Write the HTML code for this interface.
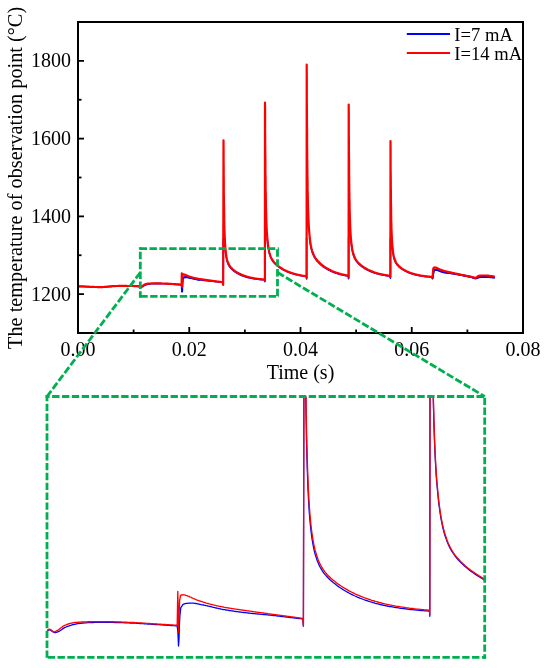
<!DOCTYPE html>
<html><head><meta charset="utf-8"><style>
html,body{margin:0;padding:0;background:#fff;}
svg{display:block;}
text{font-family:"Liberation Serif","Times New Roman",serif;fill:#000;}
</style></head><body>
<svg width="550" height="668" viewBox="0 0 550 668">
<defs>
<clipPath id="cm"><rect x="79" y="23" width="443" height="309"/></clipPath>
<clipPath id="cb"><rect x="79" y="238" width="443" height="94"/></clipPath>
<clipPath id="ci"><rect x="47" y="396.5" width="437.7" height="260.8"/></clipPath>
</defs>
<rect x="0" y="0" width="550" height="668" fill="#fff"/>
<g clip-path="url(#cm)" fill="none" stroke-linejoin="round" stroke-width="2.2">
<path d="M78.0 286.4L78.2 286.4L78.5 286.4L78.8 286.4L79.0 286.4L79.2 286.4L79.5 286.4L79.8 286.4L80.0 286.4L80.2 286.4L80.5 286.5L80.8 286.5L81.0 286.5L81.2 286.5L81.5 286.5L81.8 286.5L82.0 286.5L82.2 286.5L82.5 286.5L82.8 286.5L83.0 286.5L83.2 286.5L83.5 286.5L83.8 286.6L84.0 286.6L84.2 286.6L84.5 286.6L84.8 286.6L85.0 286.6L85.2 286.6L85.5 286.6L85.8 286.6L86.0 286.6L86.2 286.7L86.5 286.7L86.8 286.7L87.0 286.7L87.2 286.7L87.5 286.7L87.8 286.8L88.0 286.8L88.2 286.8L88.5 286.8L88.8 286.8L89.0 286.8L89.2 286.9L89.5 286.9L89.8 286.9L90.0 286.9L90.2 286.9L90.5 286.9L90.8 286.9L91.0 287.0L91.2 287.0L91.5 287.0L91.8 287.0L92.0 287.0L92.2 287.0L92.5 287.0L92.8 287.0L93.0 287.0L93.2 287.0L93.5 287.0L93.8 287.1L94.0 287.1L94.2 287.1L94.5 287.1L94.8 287.1L95.0 287.1L95.2 287.1L95.5 287.1L95.8 287.1L96.0 287.1L96.2 287.1L96.5 287.1L96.8 287.1L97.0 287.1L97.2 287.2L97.5 287.2L97.8 287.2L98.0 287.2L98.2 287.2L98.5 287.2L98.8 287.2L99.0 287.2L99.2 287.2L99.5 287.2L99.8 287.2L100.0 287.2L100.2 287.2L100.5 287.2L100.8 287.2L101.0 287.2L101.2 287.2L101.5 287.2L101.8 287.2L102.0 287.2L102.2 287.2L102.5 287.2L102.8 287.1L103.0 287.1L103.2 287.1L103.5 287.1L103.8 287.1L104.0 287.1L104.2 287.0L104.5 287.0L104.8 287.0L105.0 287.0L105.2 286.9L105.5 286.9L105.8 286.9L106.0 286.9L106.2 286.9L106.5 286.8L106.8 286.8L107.0 286.8L107.2 286.8L107.5 286.7L107.8 286.7L108.0 286.7L108.2 286.7L108.5 286.7L108.8 286.6L109.0 286.6L109.2 286.6L109.5 286.6L109.8 286.5L110.0 286.5L110.2 286.5L110.5 286.5L110.8 286.4L111.0 286.4L111.2 286.4L111.5 286.4L111.8 286.4L112.0 286.3L112.2 286.3L112.5 286.3L112.8 286.3L113.0 286.3L113.2 286.2L113.5 286.2L113.8 286.2L114.0 286.2L114.2 286.2L114.5 286.2L114.8 286.2L115.0 286.2L115.2 286.2L115.5 286.1L115.8 286.1L116.0 286.1L116.2 286.1L116.5 286.1L116.8 286.1L117.0 286.1L117.2 286.1L117.5 286.1L117.8 286.1L118.0 286.1L118.2 286.1L118.5 286.0L118.8 286.0L119.0 286.0L119.2 286.0L119.5 286.0L119.8 286.0L120.0 286.0L120.2 286.0L120.5 286.0L120.8 286.0L121.0 286.0L121.2 286.0L121.5 286.0L121.8 286.0L122.0 286.0L122.2 286.0L122.5 286.0L122.8 286.0L123.0 286.0L123.2 286.0L123.5 286.0L123.8 286.0L124.0 286.0L124.2 286.0L124.5 286.0L124.8 286.0L125.0 286.0L125.2 286.0L125.5 286.0L125.8 286.0L126.0 286.0L126.2 286.0L126.5 286.0L126.8 286.0L127.0 286.1L127.2 286.1L127.5 286.1L127.8 286.1L128.0 286.1L128.2 286.1L128.5 286.1L128.8 286.1L129.0 286.1L129.2 286.1L129.5 286.1L129.8 286.1L130.0 286.1L130.2 286.1L130.5 286.1L130.8 286.1L131.0 286.1L131.2 286.1L131.5 286.1L131.8 286.1L132.0 286.1L132.2 286.1L132.5 286.1L132.8 286.1L133.0 286.1L133.2 286.1L133.5 286.1L133.8 286.1L134.0 286.2L134.2 286.2L134.5 286.2L134.8 286.2L135.0 286.2L135.2 286.2L135.5 286.2L135.8 286.2L136.0 286.2L136.2 286.2L136.5 286.2L136.8 286.3L137.0 286.3L137.2 286.3L137.5 286.3L137.8 286.4L138.0 286.4L138.2 286.4L138.5 286.4L138.8 286.4L139.0 286.3L139.2 286.2L139.5 286.1L139.8 286.1L140.0 286.3L140.2 286.5L140.5 286.6L140.8 286.8L141.0 286.9L141.2 287.0L141.5 287.0L141.8 286.9L142.0 286.9L142.2 286.8L142.5 286.7L142.8 286.6L143.0 286.4L143.2 286.2L143.5 286.1L143.8 285.9L144.0 285.7L144.2 285.5L144.5 285.4L144.8 285.3L145.0 285.2L145.2 285.1L145.5 285.0L145.8 284.9L146.0 284.8L146.2 284.7L146.5 284.6L146.8 284.6L147.0 284.5L147.2 284.4L147.5 284.3L147.8 284.3L148.0 284.2L148.2 284.2L148.5 284.1L148.8 284.1L149.0 284.0L149.2 284.0L149.5 284.0L149.8 283.9L150.0 283.9L150.2 283.9L150.5 283.9L150.8 283.8L151.0 283.8L151.2 283.8L151.5 283.8L151.8 283.8L152.0 283.7L152.2 283.7L152.5 283.7L152.8 283.7L153.0 283.7L153.2 283.7L153.5 283.7L153.8 283.7L154.0 283.7L154.2 283.6L154.5 283.6L154.8 283.6L155.0 283.6L155.2 283.6L155.5 283.6L155.8 283.6L156.0 283.6L156.2 283.6L156.5 283.6L156.8 283.6L157.0 283.6L157.2 283.6L157.5 283.6L157.8 283.6L158.0 283.6L158.2 283.6L158.5 283.6L158.8 283.6L159.0 283.6L159.2 283.6L159.5 283.6L159.8 283.6L160.0 283.6L160.2 283.6L160.5 283.6L160.8 283.6L161.0 283.7L161.2 283.7L161.5 283.7L161.8 283.7L162.0 283.7L162.2 283.7L162.5 283.7L162.8 283.7L163.0 283.7L163.2 283.7L163.5 283.7L163.8 283.7L164.0 283.7L164.2 283.8L164.5 283.8L164.8 283.8L165.0 283.8L165.2 283.8L165.5 283.8L165.8 283.8L166.0 283.8L166.2 283.8L166.5 283.8L166.8 283.9L167.0 283.9L167.2 283.9L167.5 283.9L167.8 283.9L168.0 283.9L168.2 283.9L168.5 283.9L168.8 284.0L169.0 284.0L169.2 284.0L169.5 284.0L169.8 284.0L170.0 284.0L170.2 284.1L170.5 284.1L170.8 284.1L171.0 284.1L171.2 284.1L171.5 284.1L171.8 284.2L172.0 284.2L172.2 284.2L172.5 284.2L172.8 284.2L173.0 284.2L173.2 284.3L173.5 284.3L173.8 284.3L174.0 284.3L174.2 284.3L174.5 284.3L174.8 284.4L175.0 284.4L175.2 284.4L175.5 284.4L175.8 284.4L176.0 284.4L176.2 284.4L176.5 284.5L176.8 284.5L177.0 284.5L177.2 284.5L177.5 284.5L177.8 284.5L178.0 284.6L178.2 284.6L178.5 284.6L178.8 284.6L179.0 284.6L179.2 284.6L179.5 284.7L179.8 284.7L180.0 284.7L180.2 284.7L180.5 284.7L180.8 284.7L181.0 284.8L181.2 284.8L181.5 284.8L181.6 284.8L181.8 287.0L182.1 291.5L182.2 289.3L182.3 284.5L182.5 281.5L182.7 279.6L182.8 278.7L183.5 277.7L183.8 277.6L184.0 277.5L184.2 277.4L184.5 277.3L184.8 277.3L185.0 277.3L185.2 277.2L185.5 277.2L185.8 277.2L186.0 277.2L186.2 277.2L186.5 277.2L186.8 277.2L187.0 277.2L187.2 277.3L187.5 277.3L187.8 277.3L188.0 277.4L188.2 277.4L188.5 277.5L188.8 277.5L189.0 277.6L189.2 277.6L189.5 277.7L189.8 277.8L190.0 277.8L190.2 277.8L190.5 277.9L190.8 277.9L191.0 278.0L191.2 278.1L191.5 278.1L191.8 278.2L192.0 278.2L192.2 278.3L192.5 278.3L192.8 278.4L193.0 278.5L193.2 278.5L193.5 278.6L193.8 278.6L194.0 278.7L194.2 278.8L194.5 278.8L194.8 278.9L195.0 278.9L195.2 279.0L195.5 279.1L195.8 279.1L196.0 279.2L196.2 279.2L196.5 279.3L196.8 279.3L197.0 279.4L197.2 279.4L197.5 279.5L197.8 279.5L198.0 279.5L198.2 279.6L198.5 279.6L198.8 279.7L199.0 279.7L199.2 279.7L199.5 279.8L199.8 279.8L200.0 279.8L200.2 279.9L200.5 279.9L200.8 280.0L201.0 280.0L201.2 280.0L201.5 280.1L201.8 280.1L202.0 280.1L202.2 280.2L202.5 280.2L202.8 280.2L203.0 280.3L203.2 280.3L203.5 280.3L203.8 280.4L204.0 280.4L204.2 280.4L204.5 280.4L204.8 280.5L205.0 280.5L205.2 280.5L205.5 280.6L205.8 280.6L206.0 280.6L206.2 280.6L206.5 280.7L206.8 280.7L207.0 280.7L207.2 280.7L207.5 280.8L207.8 280.8L208.0 280.8L208.2 280.8L208.5 280.9L208.8 280.9L209.0 280.9L209.2 280.9L209.5 280.9L209.8 281.0L210.0 281.0L210.2 281.0L210.5 281.0L210.8 281.1L211.0 281.1L211.2 281.1L211.5 281.1L211.8 281.2L212.0 281.2L212.2 281.2L212.5 281.2L212.8 281.3L213.0 281.3L213.2 281.3L213.5 281.4L213.8 281.4L214.0 281.4L214.2 281.4L214.5 281.5L214.8 281.5L215.0 281.5L215.2 281.6L215.5 281.6L215.8 281.6L216.0 281.7L216.2 281.7L216.5 281.7L216.8 281.7L217.0 281.8L217.2 281.8L217.5 281.8L217.8 281.9L218.0 281.9L218.2 281.9L218.5 282.0L218.8 282.0L219.0 282.0L219.2 282.0L219.5 282.1L219.8 282.1L220.0 282.1L220.2 282.2L220.5 282.2L220.8 282.2L221.0 282.3L221.2 282.3L221.5 282.3L221.8 282.3L222.0 282.4L222.2 282.4L222.5 282.4L222.8 282.5L223.0 282.5L223.2 284.9L223.5 140.3L223.6 151.1L223.6 160.7L223.7 169.2L223.7 176.9L223.8 183.8L223.8 189.9L223.8 195.4L223.9 200.4L223.9 204.9L224.0 208.9L224.1 212.5L224.1 215.8L224.2 218.9L224.2 221.6L224.2 224.1L224.3 226.4L224.3 228.4L224.4 230.4L224.4 232.1L224.5 233.8L224.6 236.7L224.7 239.2L224.8 241.4L224.9 243.3L225.0 245.0L225.1 246.5L225.2 247.9L225.3 249.1L225.4 250.3L225.5 251.3L225.6 252.3L225.7 253.2L225.8 254.0L225.9 254.7L226.0 255.4L226.1 256.1L226.2 256.7L226.3 257.3L226.4 257.9L226.5 258.4L226.6 258.9L226.7 259.4L226.8 259.8L226.9 260.2L227.0 260.6L227.1 261.0L227.2 261.3L227.3 261.7L227.4 262.0L227.5 262.3L227.6 262.6L227.7 262.9L227.8 263.2L227.9 263.4L228.0 263.7L228.1 263.9L228.2 264.1L228.3 264.4L228.4 264.6L228.5 264.8L228.6 265.0L228.7 265.2L228.8 265.4L228.9 265.5L229.0 265.7L229.1 265.9L229.2 266.1L229.3 266.2L229.4 266.4L229.5 266.5L229.9 267.1L230.3 267.6L230.7 268.1L231.1 268.5L231.5 268.9L231.9 269.3L232.3 269.7L232.7 270.0L233.1 270.4L233.5 270.7L233.9 271.0L234.3 271.3L234.6 271.6L235.0 271.9L235.4 272.2L235.8 272.4L236.2 272.7L236.6 272.9L237.0 273.2L237.4 273.4L237.8 273.6L238.2 273.8L238.6 274.1L239.0 274.3L239.4 274.5L239.8 274.7L240.2 274.8L240.6 275.0L241.0 275.2L241.4 275.4L241.8 275.5L242.2 275.7L242.6 275.8L243.0 276.0L243.4 276.1L243.8 276.3L244.2 276.4L244.6 276.5L244.9 276.7L245.3 276.8L245.7 276.9L246.1 277.0L246.5 277.1L246.9 277.3L247.3 277.4L247.7 277.5L248.1 277.6L248.5 277.7L248.9 277.8L249.3 277.8L249.7 277.9L250.1 278.0L250.5 278.1L250.9 278.2L251.3 278.3L251.7 278.3L252.1 278.4L252.5 278.5L252.9 278.5L253.3 278.6L253.7 278.7L254.1 278.7L254.5 278.8L254.8 278.9L255.2 278.9L255.6 279.0L256.0 279.0L256.4 279.1L256.8 279.1L257.2 279.2L257.6 279.2L258.0 279.3L258.4 279.3L258.8 279.4L259.2 279.4L259.6 279.4L260.0 279.5L260.4 279.5L260.8 279.6L261.2 279.6L261.6 279.6L262.0 279.7L262.4 279.7L262.8 279.7L263.2 279.8L263.6 279.8L264.0 279.8L264.4 279.8L264.8 279.9L264.9 281.6L265.0 102.6L265.1 113.2L265.1 123.0L265.1 131.9L265.2 140.0L265.2 147.5L265.3 154.4L265.4 160.7L265.4 166.5L265.4 171.8L265.5 176.7L265.6 181.2L265.6 185.4L265.6 189.2L265.7 192.8L265.8 196.1L265.8 199.1L265.9 202.0L265.9 204.6L265.9 207.1L266.0 209.4L266.1 213.5L266.2 217.1L266.3 220.3L266.4 223.1L266.5 225.6L266.6 227.9L266.7 229.9L266.8 231.8L266.9 233.5L267.0 235.0L267.1 236.4L267.2 237.7L267.3 238.9L267.4 240.1L267.5 241.1L267.6 242.1L267.7 243.0L267.8 243.9L267.9 244.7L268.0 245.5L268.1 246.2L268.2 246.9L268.3 247.6L268.4 248.2L268.5 248.8L268.6 249.4L268.7 249.9L268.8 250.4L268.9 250.9L269.0 251.4L269.1 251.8L269.2 252.3L269.3 252.7L269.4 253.1L269.5 253.5L269.6 253.8L269.7 254.2L269.8 254.5L269.9 254.8L270.0 255.2L270.1 255.5L270.2 255.8L270.3 256.0L270.4 256.3L270.5 256.6L270.6 256.8L270.7 257.1L270.8 257.3L270.9 257.6L271.0 257.8L271.4 258.6L271.8 259.4L272.2 260.1L272.6 260.7L273.0 261.2L273.4 261.8L273.8 262.3L274.2 262.7L274.6 263.2L275.0 263.6L275.4 264.0L275.8 264.4L276.2 264.7L276.6 265.1L277.0 265.4L277.4 265.8L277.8 266.1L278.2 266.4L278.6 266.7L279.0 267.0L279.4 267.3L279.8 267.5L280.2 267.8L280.6 268.1L281.0 268.3L281.4 268.6L281.8 268.8L282.2 269.1L282.6 269.3L282.9 269.5L283.3 269.7L283.7 270.0L284.1 270.2L284.5 270.4L284.9 270.6L285.3 270.8L285.7 270.9L286.1 271.1L286.5 271.3L286.9 271.5L287.3 271.7L287.7 271.8L288.1 272.0L288.5 272.2L288.9 272.3L289.3 272.5L289.7 272.6L290.1 272.8L290.5 272.9L290.9 273.0L291.3 273.2L291.7 273.3L292.1 273.4L292.5 273.6L292.9 273.7L293.3 273.8L293.7 273.9L294.1 274.0L294.5 274.1L294.9 274.2L295.3 274.4L295.7 274.5L296.1 274.6L296.5 274.7L296.9 274.7L297.3 274.8L297.7 274.9L298.1 275.0L298.5 275.1L298.9 275.2L299.3 275.3L299.7 275.4L300.1 275.4L300.5 275.5L300.9 275.6L301.3 275.7L301.7 275.7L302.1 275.8L302.5 275.9L302.9 275.9L303.3 276.0L303.7 276.1L304.1 276.1L304.5 276.2L304.9 276.3L305.3 276.3L305.7 276.4L306.1 276.4L306.4 276.5L306.6 279.0L306.7 64.7L306.8 77.8L306.8 89.8L306.8 100.7L306.9 110.7L306.9 119.9L307.0 128.2L307.1 135.9L307.1 143.0L307.1 149.5L307.2 155.4L307.2 160.9L307.3 166.0L307.3 170.7L307.4 175.0L307.4 179.0L307.5 182.7L307.6 186.1L307.6 189.3L307.6 192.3L307.7 195.1L307.8 200.1L307.9 204.4L308.0 208.3L308.1 211.7L308.2 214.7L308.3 217.5L308.4 219.9L308.5 222.1L308.6 224.2L308.7 226.0L308.8 227.7L308.9 229.3L309.0 230.7L309.1 232.1L309.2 233.4L309.3 234.5L309.4 235.7L309.5 236.7L309.6 237.7L309.7 238.6L309.8 239.5L309.9 240.3L310.0 241.1L310.1 241.9L310.2 242.6L310.3 243.3L310.4 243.9L310.5 244.6L310.6 245.2L310.7 245.7L310.8 246.3L310.9 246.8L311.0 247.3L311.1 247.8L311.2 248.2L311.3 248.7L311.4 249.1L311.5 249.5L311.6 249.9L311.7 250.3L311.8 250.6L311.9 251.0L312.0 251.3L312.1 251.7L312.2 252.0L312.3 252.3L312.4 252.6L312.5 252.9L312.6 253.2L312.7 253.4L313.1 254.4L313.5 255.3L313.9 256.2L314.3 256.9L314.7 257.6L315.1 258.2L315.5 258.8L315.9 259.4L316.3 259.9L316.7 260.4L317.1 260.9L317.5 261.4L317.9 261.8L318.3 262.2L318.7 262.7L319.1 263.1L319.5 263.4L319.8 263.8L320.2 264.2L320.6 264.5L321.0 264.9L321.4 265.2L321.8 265.5L322.2 265.9L322.6 266.2L323.0 266.5L323.4 266.8L323.8 267.1L324.2 267.3L324.6 267.6L325.0 267.9L325.4 268.1L325.8 268.4L326.2 268.6L326.6 268.9L327.0 269.1L327.4 269.3L327.8 269.6L328.2 269.8L328.6 270.0L329.0 270.2L329.4 270.4L329.8 270.6L330.2 270.8L330.6 271.0L331.0 271.2L331.4 271.3L331.8 271.5L332.2 271.7L332.6 271.9L333.0 272.0L333.4 272.2L333.8 272.3L334.1 272.5L334.5 272.6L334.9 272.8L335.3 272.9L335.7 273.1L336.1 273.2L336.5 273.3L336.9 273.4L337.3 273.6L337.7 273.7L338.1 273.8L338.5 273.9L338.9 274.0L339.3 274.2L339.7 274.3L340.1 274.4L340.5 274.5L340.9 274.6L341.3 274.7L341.7 274.8L342.1 274.8L342.5 274.9L342.9 275.0L343.3 275.1L343.7 275.2L344.1 275.3L344.5 275.4L344.9 275.4L345.3 275.5L345.7 275.6L346.1 275.7L346.5 275.7L346.9 275.8L347.3 275.9L347.7 275.9L348.1 276.0L348.4 276.1L348.6 278.6L348.7 104.6L348.8 115.8L348.8 126.0L348.8 135.3L348.9 143.7L348.9 151.4L349.0 158.4L349.1 164.8L349.1 170.6L349.1 176.0L349.2 180.8L349.2 185.3L349.3 189.4L349.3 193.2L349.4 196.7L349.4 199.9L349.5 202.9L349.6 205.6L349.6 208.2L349.6 210.5L349.7 212.7L349.8 216.7L349.9 220.1L350.0 223.1L350.1 225.8L350.2 228.2L350.3 230.3L350.4 232.2L350.5 233.9L350.6 235.5L350.7 236.9L350.8 238.3L350.9 239.5L351.0 240.6L351.1 241.7L351.2 242.7L351.3 243.6L351.4 244.5L351.5 245.3L351.6 246.1L351.7 246.8L351.8 247.5L351.9 248.1L352.0 248.7L352.1 249.3L352.2 249.9L352.3 250.4L352.4 250.9L352.5 251.4L352.6 251.9L352.7 252.3L352.8 252.7L352.9 253.1L353.0 253.5L353.1 253.9L353.2 254.2L353.3 254.6L353.4 254.9L353.5 255.2L353.6 255.5L353.7 255.8L353.8 256.1L353.9 256.4L354.0 256.6L354.1 256.9L354.2 257.1L354.3 257.4L354.4 257.6L354.5 257.8L354.6 258.1L354.7 258.3L355.1 259.0L355.5 259.8L355.9 260.4L356.3 261.0L356.7 261.5L357.1 262.0L357.5 262.5L357.9 263.0L358.3 263.4L358.7 263.8L359.1 264.2L359.5 264.6L359.9 264.9L360.3 265.3L360.7 265.6L361.1 265.9L361.5 266.2L361.9 266.5L362.3 266.8L362.7 267.1L363.1 267.4L363.5 267.7L363.9 267.9L364.3 268.2L364.7 268.5L365.1 268.7L365.5 268.9L365.9 269.2L366.3 269.4L366.7 269.6L367.1 269.8L367.5 270.0L367.9 270.2L368.3 270.4L368.7 270.6L369.1 270.8L369.5 271.0L369.9 271.2L370.3 271.3L370.7 271.5L371.1 271.7L371.5 271.8L371.9 272.0L372.3 272.1L372.7 272.3L373.1 272.4L373.5 272.6L373.9 272.7L374.3 272.9L374.7 273.0L375.1 273.1L375.5 273.2L375.9 273.4L376.3 273.5L376.7 273.6L377.1 273.7L377.5 273.8L377.9 273.9L378.3 274.0L378.7 274.1L379.1 274.2L379.5 274.3L379.9 274.4L380.3 274.5L380.7 274.6L381.1 274.7L381.5 274.7L381.9 274.8L382.3 274.9L382.7 275.0L383.1 275.1L383.5 275.1L383.9 275.2L384.3 275.3L384.7 275.3L385.1 275.4L385.5 275.5L385.9 275.5L386.3 275.6L386.7 275.6L387.1 275.7L387.5 275.8L387.9 275.8L388.3 275.9L388.7 275.9L389.1 276.0L389.5 276.0L389.9 276.1L390.2 276.1L390.4 278.2L390.5 141.0L390.6 151.2L390.6 160.2L390.6 168.4L390.7 175.7L390.8 182.2L390.8 188.1L390.9 193.4L390.9 198.3L390.9 202.6L391.0 206.5L391.1 210.1L391.1 213.3L391.1 216.3L391.2 219.0L391.2 221.4L391.3 223.7L391.4 225.8L391.4 227.7L391.4 229.4L391.5 231.0L391.6 233.9L391.7 236.4L391.8 238.6L391.9 240.6L392.0 242.3L392.1 243.8L392.2 245.2L392.3 246.4L392.4 247.5L392.5 248.6L392.6 249.5L392.7 250.4L392.8 251.2L392.9 252.0L393.0 252.7L393.1 253.4L393.2 254.0L393.3 254.6L393.4 255.1L393.5 255.7L393.6 256.2L393.7 256.6L393.8 257.1L393.9 257.5L394.0 257.9L394.1 258.3L394.2 258.6L394.3 259.0L394.4 259.3L394.5 259.6L394.6 259.9L394.7 260.2L394.8 260.5L394.9 260.7L395.0 261.0L395.1 261.2L395.2 261.4L395.3 261.7L395.4 261.9L395.5 262.1L395.6 262.3L395.7 262.5L395.8 262.7L395.9 262.8L396.0 263.0L396.1 263.2L396.2 263.4L396.3 263.5L396.4 263.7L396.5 263.8L396.9 264.4L397.3 264.9L397.7 265.4L398.1 265.8L398.5 266.2L398.9 266.6L399.3 267.0L399.7 267.3L400.1 267.6L400.5 268.0L400.9 268.3L401.3 268.6L401.7 268.8L402.1 269.1L402.5 269.4L402.9 269.6L403.3 269.9L403.7 270.1L404.1 270.4L404.5 270.6L404.9 270.8L405.3 271.0L405.7 271.2L406.1 271.4L406.5 271.6L406.9 271.8L407.3 272.0L407.7 272.2L408.1 272.4L408.4 272.5L408.8 272.7L409.2 272.8L409.6 273.0L410.0 273.1L410.4 273.3L410.8 273.4L411.2 273.6L411.6 273.7L412.0 273.8L412.4 273.9L412.8 274.1L413.2 274.2L413.6 274.3L414.0 274.4L414.4 274.5L414.8 274.6L415.2 274.7L415.6 274.8L416.0 274.9L416.4 275.0L416.8 275.1L417.2 275.2L417.6 275.3L418.0 275.3L418.4 275.4L418.8 275.5L419.2 275.6L419.6 275.6L420.0 275.7L420.4 275.8L420.8 275.9L421.2 275.9L421.6 276.0L422.0 276.0L422.4 276.1L422.8 276.2L423.2 276.2L423.6 276.3L424.0 276.3L424.4 276.4L424.8 276.4L425.2 276.5L425.6 276.5L426.0 276.6L426.4 276.6L426.8 276.6L427.2 276.7L427.6 276.7L428.0 276.8L428.4 276.8L428.8 276.8L429.2 276.9L429.6 276.9L430.0 276.9L430.4 277.0L430.8 277.0L431.2 277.0L431.6 277.1L432.0 277.1L432.4 277.1L432.5 278.4L433.6 271.5L434.2 270.3L435.0 269.8L435.2 269.8L435.5 269.8L435.8 269.8L436.0 269.9L436.2 269.9L436.5 269.9L436.8 270.0L437.0 270.0L437.2 270.0L437.5 270.1L437.8 270.2L438.0 270.2L438.2 270.3L438.5 270.4L438.8 270.5L439.0 270.6L439.2 270.7L439.5 270.8L439.8 270.9L440.0 271.0L440.2 271.1L440.5 271.2L440.8 271.3L441.0 271.4L441.2 271.5L441.5 271.6L441.8 271.7L442.0 271.8L442.2 271.9L442.5 272.0L442.8 272.0L443.0 272.1L443.2 272.2L443.5 272.2L443.8 272.3L444.0 272.3L444.2 272.3L444.5 272.4L444.8 272.4L445.0 272.5L445.2 272.5L445.5 272.5L445.8 272.6L446.0 272.6L446.2 272.6L446.5 272.7L446.8 272.7L447.0 272.7L447.2 272.8L447.5 272.8L447.8 272.8L448.0 272.9L448.2 272.9L448.5 272.9L448.8 273.0L449.0 273.0L449.2 273.0L449.5 273.1L449.8 273.1L450.0 273.1L450.2 273.2L450.5 273.2L450.8 273.2L451.0 273.3L451.2 273.3L451.5 273.3L451.8 273.4L452.0 273.4L452.2 273.4L452.5 273.5L452.8 273.5L453.0 273.5L453.2 273.6L453.5 273.6L453.8 273.7L454.0 273.7L454.2 273.7L454.5 273.8L454.8 273.8L455.0 273.9L455.2 273.9L455.5 274.0L455.8 274.0L456.0 274.0L456.2 274.1L456.5 274.1L456.8 274.2L457.0 274.2L457.2 274.3L457.5 274.3L457.8 274.4L458.0 274.4L458.2 274.5L458.5 274.5L458.8 274.6L459.0 274.6L459.2 274.7L459.5 274.7L459.8 274.8L460.0 274.8L460.2 274.8L460.5 274.9L460.8 274.9L461.0 275.0L461.2 275.0L461.5 275.1L461.8 275.1L462.0 275.2L462.2 275.2L462.5 275.3L462.8 275.3L463.0 275.4L463.2 275.4L463.5 275.5L463.8 275.5L464.0 275.6L464.2 275.6L464.5 275.7L464.8 275.7L465.0 275.8L465.2 275.8L465.5 275.9L465.8 275.9L466.0 276.0L466.2 276.0L466.5 276.1L466.8 276.1L467.0 276.2L467.2 276.2L467.5 276.3L467.8 276.3L468.0 276.4L468.2 276.4L468.5 276.5L468.8 276.5L469.0 276.6L469.2 276.6L469.5 276.7L469.8 276.7L470.0 276.8L470.2 276.8L470.5 276.9L470.8 276.9L471.0 277.0L471.2 277.1L471.5 277.1L471.8 277.2L472.0 277.3L472.2 277.4L472.5 277.4L472.8 277.5L473.0 277.6L473.2 277.7L473.5 277.8L473.8 277.9L474.0 277.9L474.2 278.0L474.5 278.1L474.8 278.2L475.0 278.3L475.2 278.4L475.2 278.4L475.4 278.4L475.7 278.3L475.9 278.3L476.2 278.2L476.4 278.2L476.7 278.1L476.9 278.0L477.2 277.9L477.4 277.8L477.7 277.7L477.9 277.6L478.2 277.5L478.4 277.4L478.7 277.3L478.9 277.3L479.2 277.2L479.4 277.2L479.7 277.2L479.9 277.2L480.2 277.1L480.4 277.1L480.7 277.1L480.9 277.1L481.2 277.1L481.4 277.1L481.7 277.1L481.9 277.1L482.2 277.0L482.4 277.0L482.7 277.0L482.9 277.0L483.2 277.0L483.4 277.0L483.7 277.0L483.9 277.0L484.2 277.0L484.4 277.0L484.7 277.0L484.9 277.0L485.2 277.0L485.4 277.0L485.7 277.0L485.9 277.0L486.2 277.0L486.4 277.0L486.7 277.0L486.9 277.0L487.2 277.0L487.4 277.0L487.7 277.1L487.9 277.1L488.2 277.1L488.4 277.1L488.7 277.1L488.9 277.1L489.2 277.1L489.4 277.1L489.7 277.1L489.9 277.1L490.2 277.2L490.4 277.2L490.7 277.2L490.9 277.2L491.2 277.2L491.4 277.3L491.7 277.3L491.9 277.3L492.2 277.3L492.4 277.3L492.7 277.4L492.9 277.4L493.2 277.4L493.4 277.4L493.7 277.4L493.9 277.4L494.2 277.5L494.4 277.5L494.7 277.5L494.8 277.5" stroke="#0000FF" stroke-width="1.6" clip-path="url(#cb)"/>
<path d="M181.5 284.8L181.6 284.8L181.8 287.0L182.1 291.5L182.2 289.3L182.3 284.5L182.5 281.5L182.7 279.6L182.8 278.7L183.5 277.7L183.8 277.6L184.0 277.5L184.2 277.4L184.5 277.3L184.8 277.3L185.0 277.3L185.2 277.2L185.5 277.2L185.8 277.2L186.0 277.2L186.2 277.2L186.5 277.2L186.8 277.2L187.0 277.2L187.2 277.3L187.5 277.3L187.8 277.3L188.0 277.4L188.2 277.4L188.5 277.5L188.8 277.5L189.0 277.6L189.2 277.6L189.5 277.7L189.8 277.8L190.0 277.8L190.2 277.8L190.5 277.9L190.8 277.9L191.0 278.0L191.2 278.1L191.5 278.1L191.8 278.2L192.0 278.2L192.2 278.3L192.5 278.3L192.8 278.4L193.0 278.5L193.2 278.5L193.5 278.6L193.8 278.6L194.0 278.7L194.2 278.8L194.5 278.8L194.8 278.9L195.0 278.9L195.2 279.0L195.5 279.1L195.8 279.1L196.0 279.2L196.2 279.2L196.5 279.3L196.8 279.3L197.0 279.4L197.2 279.4L197.5 279.5L197.8 279.5L198.0 279.5L198.2 279.6L198.5 279.6L198.8 279.7L199.0 279.7L199.2 279.7L199.5 279.8L199.8 279.8L200.0 279.8M432.4 277.1L432.5 278.4L433.6 271.5L434.2 270.3L435.0 269.8L435.2 269.8L435.5 269.8L435.8 269.8L436.0 269.9L436.2 269.9L436.5 269.9L436.8 270.0L437.0 270.0L437.2 270.0L437.5 270.1L437.8 270.2L438.0 270.2L438.2 270.3L438.5 270.4L438.8 270.5L439.0 270.6L439.2 270.7L439.5 270.8L439.8 270.9L440.0 271.0L440.2 271.1L440.5 271.2L440.8 271.3L441.0 271.4L441.2 271.5L441.5 271.6L441.8 271.7L442.0 271.8L442.2 271.9L442.5 272.0L442.8 272.0L443.0 272.1L443.2 272.2L443.5 272.2L443.8 272.3L444.0 272.3L444.2 272.3L444.5 272.4L444.8 272.4L445.0 272.5L445.2 272.5L445.5 272.5L445.8 272.6L446.0 272.6L446.2 272.6L446.5 272.7L446.8 272.7L447.0 272.7L447.2 272.8L447.5 272.8L447.8 272.8L448.0 272.9L448.2 272.9L448.5 272.9L448.8 273.0L449.0 273.0L449.2 273.0L449.5 273.1L449.8 273.1L450.0 273.1L450.2 273.2L450.5 273.2L450.8 273.2L451.0 273.3L451.2 273.3L451.5 273.3L451.8 273.4L452.0 273.4L452.2 273.4L452.5 273.5L452.8 273.5L453.0 273.5L453.2 273.6L453.5 273.6L453.8 273.7L454.0 273.7L454.2 273.7L454.5 273.8L454.8 273.8L455.0 273.9L455.2 273.9L455.5 274.0L455.8 274.0L456.0 274.0L456.2 274.1L456.5 274.1L456.8 274.2L457.0 274.2L457.2 274.3L457.5 274.3L457.8 274.4L458.0 274.4L458.2 274.5L458.5 274.5L458.8 274.6L459.0 274.6L459.2 274.7L459.5 274.7L459.8 274.8L460.0 274.8L460.2 274.8L460.5 274.9L460.8 274.9L461.0 275.0L461.2 275.0L461.5 275.1L461.8 275.1L462.0 275.2L462.2 275.2L462.5 275.3L462.8 275.3L463.0 275.4L463.2 275.4L463.5 275.5L463.8 275.5L464.0 275.6L464.2 275.6L464.5 275.7L464.8 275.7L465.0 275.8L465.2 275.8L465.5 275.9L465.8 275.9L466.0 276.0L466.2 276.0L466.5 276.1L466.8 276.1L467.0 276.2L467.2 276.2L467.5 276.3L467.8 276.3L468.0 276.4L468.2 276.4L468.5 276.5L468.8 276.5L469.0 276.6L469.2 276.6L469.5 276.7L469.8 276.7L470.0 276.8L470.2 276.8L470.5 276.9L470.8 276.9L471.0 277.0L471.2 277.1L471.5 277.1L471.8 277.2L472.0 277.3L472.2 277.4L472.5 277.4L472.8 277.5L473.0 277.6L473.2 277.7L473.5 277.8L473.8 277.9L474.0 277.9L474.2 278.0L474.5 278.1L474.8 278.2L475.0 278.3L475.2 278.4L475.2 278.4L475.4 278.4L475.7 278.3L475.9 278.3L476.2 278.2L476.4 278.2L476.7 278.1L476.9 278.0L477.2 277.9L477.4 277.8L477.7 277.7L477.9 277.6L478.2 277.5L478.4 277.4L478.7 277.3L478.9 277.3L479.2 277.2L479.4 277.2L479.7 277.2L479.9 277.2L480.2 277.1L480.4 277.1L480.7 277.1L480.9 277.1L481.2 277.1L481.4 277.1L481.7 277.1L481.9 277.1L482.2 277.0L482.4 277.0L482.7 277.0L482.9 277.0L483.2 277.0L483.4 277.0L483.7 277.0L483.9 277.0L484.2 277.0L484.4 277.0L484.7 277.0L484.9 277.0L485.2 277.0L485.4 277.0L485.7 277.0L485.9 277.0L486.2 277.0L486.4 277.0L486.7 277.0L486.9 277.0L487.2 277.0L487.4 277.0L487.7 277.1L487.9 277.1L488.2 277.1L488.4 277.1L488.7 277.1L488.9 277.1L489.2 277.1L489.4 277.1L489.7 277.1L489.9 277.1L490.2 277.2L490.4 277.2L490.7 277.2L490.9 277.2L491.2 277.2L491.4 277.3L491.7 277.3L491.9 277.3L492.2 277.3L492.4 277.3L492.7 277.4L492.9 277.4L493.2 277.4L493.4 277.4L493.7 277.4L493.9 277.4L494.2 277.5L494.4 277.5L494.7 277.5L494.8 277.5" stroke="#0000FF" stroke-width="2.0"/>
<path d="M78.0 286.3L78.2 286.3L78.5 286.3L78.8 286.3L79.0 286.3L79.2 286.3L79.5 286.3L79.8 286.3L80.0 286.3L80.2 286.3L80.5 286.4L80.8 286.4L81.0 286.4L81.2 286.4L81.5 286.4L81.8 286.4L82.0 286.4L82.2 286.4L82.5 286.4L82.8 286.4L83.0 286.4L83.2 286.4L83.5 286.4L83.8 286.5L84.0 286.5L84.2 286.5L84.5 286.5L84.8 286.5L85.0 286.5L85.2 286.5L85.5 286.5L85.8 286.5L86.0 286.5L86.2 286.6L86.5 286.6L86.8 286.6L87.0 286.6L87.2 286.6L87.5 286.6L87.8 286.7L88.0 286.7L88.2 286.7L88.5 286.7L88.8 286.7L89.0 286.7L89.2 286.8L89.5 286.8L89.8 286.8L90.0 286.8L90.2 286.8L90.5 286.8L90.8 286.8L91.0 286.9L91.2 286.9L91.5 286.9L91.8 286.9L92.0 286.9L92.2 286.9L92.5 286.9L92.8 286.9L93.0 286.9L93.2 286.9L93.5 286.9L93.8 287.0L94.0 287.0L94.2 287.0L94.5 287.0L94.8 287.0L95.0 287.0L95.2 287.0L95.5 287.0L95.8 287.0L96.0 287.0L96.2 287.0L96.5 287.0L96.8 287.0L97.0 287.0L97.2 287.1L97.5 287.1L97.8 287.1L98.0 287.1L98.2 287.1L98.5 287.1L98.8 287.1L99.0 287.1L99.2 287.1L99.5 287.1L99.8 287.1L100.0 287.1L100.2 287.1L100.5 287.1L100.8 287.1L101.0 287.1L101.2 287.1L101.5 287.1L101.8 287.1L102.0 287.1L102.2 287.1L102.5 287.1L102.8 287.0L103.0 287.0L103.2 287.0L103.5 287.0L103.8 287.0L104.0 287.0L104.2 286.9L104.5 286.9L104.8 286.9L105.0 286.9L105.2 286.8L105.5 286.8L105.8 286.8L106.0 286.8L106.2 286.8L106.5 286.7L106.8 286.7L107.0 286.7L107.2 286.7L107.5 286.6L107.8 286.6L108.0 286.6L108.2 286.6L108.5 286.6L108.8 286.5L109.0 286.5L109.2 286.5L109.5 286.5L109.8 286.4L110.0 286.4L110.2 286.4L110.5 286.4L110.8 286.3L111.0 286.3L111.2 286.3L111.5 286.3L111.8 286.3L112.0 286.2L112.2 286.2L112.5 286.2L112.8 286.2L113.0 286.2L113.2 286.1L113.5 286.1L113.8 286.1L114.0 286.1L114.2 286.1L114.5 286.1L114.8 286.1L115.0 286.1L115.2 286.1L115.5 286.0L115.8 286.0L116.0 286.0L116.2 286.0L116.5 286.0L116.8 286.0L117.0 286.0L117.2 286.0L117.5 286.0L117.8 286.0L118.0 286.0L118.2 286.0L118.5 285.9L118.8 285.9L119.0 285.9L119.2 285.9L119.5 285.9L119.8 285.9L120.0 285.9L120.2 285.9L120.5 285.9L120.8 285.9L121.0 285.9L121.2 285.9L121.5 285.9L121.8 285.9L122.0 285.9L122.2 285.9L122.5 285.9L122.8 285.9L123.0 285.9L123.2 285.9L123.5 285.9L123.8 285.9L124.0 285.9L124.2 285.9L124.5 285.9L124.8 285.9L125.0 285.9L125.2 285.9L125.5 285.9L125.8 285.9L126.0 285.9L126.2 285.9L126.5 285.9L126.8 285.9L127.0 286.0L127.2 286.0L127.5 286.0L127.8 286.0L128.0 286.0L128.2 286.0L128.5 286.0L128.8 286.0L129.0 286.0L129.2 286.0L129.5 286.0L129.8 286.0L130.0 286.0L130.2 286.0L130.5 286.0L130.8 286.0L131.0 286.0L131.2 286.0L131.5 286.0L131.8 286.0L132.0 286.0L132.2 286.0L132.5 286.0L132.8 286.0L133.0 286.0L133.2 286.0L133.5 286.0L133.8 286.0L134.0 286.1L134.2 286.1L134.5 286.1L134.8 286.1L135.0 286.1L135.2 286.1L135.5 286.1L135.8 286.1L136.0 286.1L136.2 286.1L136.5 286.1L136.8 286.2L137.0 286.2L137.2 286.2L137.5 286.2L137.8 286.3L138.0 286.3L138.2 286.3L138.5 286.3L138.8 286.3L139.0 286.2L139.2 286.0L139.5 285.9L139.8 285.9L140.0 286.1L140.2 286.4L140.5 286.5L140.8 286.7L141.0 286.8L141.2 286.8L141.5 286.7L141.8 286.5L142.0 286.4L142.2 286.3L142.5 286.1L142.8 285.9L143.0 285.7L143.2 285.5L143.5 285.3L143.8 285.1L144.0 284.9L144.2 284.8L144.5 284.7L144.8 284.5L145.0 284.4L145.2 284.3L145.5 284.2L145.8 284.2L146.0 284.1L146.2 284.0L146.5 284.0L146.8 283.9L147.0 283.8L147.2 283.8L147.5 283.7L147.8 283.7L148.0 283.7L148.2 283.6L148.5 283.6L148.8 283.6L149.0 283.6L149.2 283.6L149.5 283.5L149.8 283.5L150.0 283.5L150.2 283.5L150.5 283.5L150.8 283.5L151.0 283.5L151.2 283.4L151.5 283.4L151.8 283.4L152.0 283.4L152.2 283.4L152.5 283.4L152.8 283.4L153.0 283.4L153.2 283.4L153.5 283.4L153.8 283.4L154.0 283.4L154.2 283.4L154.5 283.4L154.8 283.4L155.0 283.4L155.2 283.4L155.5 283.4L155.8 283.4L156.0 283.4L156.2 283.4L156.5 283.4L156.8 283.4L157.0 283.4L157.2 283.4L157.5 283.4L157.8 283.4L158.0 283.4L158.2 283.4L158.5 283.4L158.8 283.4L159.0 283.4L159.2 283.4L159.5 283.4L159.8 283.4L160.0 283.4L160.2 283.4L160.5 283.4L160.8 283.4L161.0 283.4L161.2 283.4L161.5 283.4L161.8 283.4L162.0 283.5L162.2 283.5L162.5 283.5L162.8 283.5L163.0 283.5L163.2 283.5L163.5 283.5L163.8 283.5L164.0 283.5L164.2 283.5L164.5 283.6L164.8 283.6L165.0 283.6L165.2 283.6L165.5 283.6L165.8 283.6L166.0 283.6L166.2 283.6L166.5 283.6L166.8 283.7L167.0 283.7L167.2 283.7L167.5 283.7L167.8 283.7L168.0 283.7L168.2 283.7L168.5 283.8L168.8 283.8L169.0 283.8L169.2 283.8L169.5 283.8L169.8 283.8L170.0 283.8L170.2 283.9L170.5 283.9L170.8 283.9L171.0 283.9L171.2 283.9L171.5 283.9L171.8 284.0L172.0 284.0L172.2 284.0L172.5 284.0L172.8 284.0L173.0 284.0L173.2 284.1L173.5 284.1L173.8 284.1L174.0 284.1L174.2 284.1L174.5 284.1L174.8 284.2L175.0 284.2L175.2 284.2L175.5 284.2L175.8 284.2L176.0 284.2L176.2 284.2L176.5 284.3L176.8 284.3L177.0 284.3L177.2 284.3L177.5 284.3L177.8 284.3L178.0 284.4L178.2 284.4L178.5 284.4L178.8 284.4L179.0 284.4L179.2 284.4L179.5 284.5L179.8 284.5L180.0 284.5L180.2 284.5L180.5 284.5L180.8 284.5L181.0 284.6L181.2 284.6L181.5 284.6L181.6 284.6L181.8 273.3L182.1 287.0L182.4 276.3L182.8 274.6L183.0 274.5L183.2 274.4L183.5 274.4L183.8 274.4L184.0 274.5L184.2 274.5L184.5 274.6L184.8 274.7L185.0 274.8L185.2 274.9L185.5 275.0L185.8 275.1L186.0 275.2L186.2 275.3L186.5 275.4L186.8 275.6L187.0 275.7L187.2 275.8L187.5 275.9L187.8 276.0L188.0 276.1L188.2 276.2L188.5 276.3L188.8 276.4L189.0 276.5L189.2 276.6L189.5 276.7L189.8 276.7L190.0 276.8L190.2 276.9L190.5 277.0L190.8 277.0L191.0 277.1L191.2 277.2L191.5 277.3L191.8 277.3L192.0 277.4L192.2 277.5L192.5 277.5L192.8 277.6L193.0 277.7L193.2 277.7L193.5 277.8L193.8 277.9L194.0 277.9L194.2 278.0L194.5 278.0L194.8 278.1L195.0 278.1L195.2 278.2L195.5 278.3L195.8 278.3L196.0 278.4L196.2 278.4L196.5 278.5L196.8 278.5L197.0 278.6L197.2 278.6L197.5 278.7L197.8 278.7L198.0 278.7L198.2 278.8L198.5 278.8L198.8 278.9L199.0 278.9L199.2 279.0L199.5 279.0L199.8 279.0L200.0 279.1L200.2 279.1L200.5 279.1L200.8 279.2L201.0 279.2L201.2 279.3L201.5 279.3L201.8 279.3L202.0 279.4L202.2 279.4L202.5 279.4L202.8 279.5L203.0 279.5L203.2 279.5L203.5 279.6L203.8 279.6L204.0 279.7L204.2 279.7L204.5 279.7L204.8 279.8L205.0 279.8L205.2 279.8L205.5 279.9L205.8 279.9L206.0 279.9L206.2 280.0L206.5 280.0L206.8 280.1L207.0 280.1L207.2 280.1L207.5 280.2L207.8 280.2L208.0 280.2L208.2 280.3L208.5 280.3L208.8 280.3L209.0 280.4L209.2 280.4L209.5 280.4L209.8 280.5L210.0 280.5L210.2 280.5L210.5 280.6L210.8 280.6L211.0 280.6L211.2 280.7L211.5 280.7L211.8 280.8L212.0 280.8L212.2 280.8L212.5 280.9L212.8 280.9L213.0 280.9L213.2 281.0L213.5 281.0L213.8 281.0L214.0 281.1L214.2 281.1L214.5 281.1L214.8 281.2L215.0 281.2L215.2 281.2L215.5 281.3L215.8 281.3L216.0 281.3L216.2 281.4L216.5 281.4L216.8 281.4L217.0 281.5L217.2 281.5L217.5 281.5L217.8 281.6L218.0 281.6L218.2 281.6L218.5 281.7L218.8 281.7L219.0 281.7L219.2 281.8L219.5 281.8L219.8 281.8L220.0 281.9L220.2 281.9L220.5 281.9L220.8 282.0L221.0 282.0L221.2 282.1L221.5 282.1L221.8 282.1L222.0 282.2L222.2 282.2L222.5 282.2L222.8 282.3L223.0 282.3L223.2 284.7L223.5 140.3L223.6 150.2L223.6 159.0L223.7 167.0L223.7 174.2L223.8 180.7L223.8 186.6L223.8 192.0L223.9 196.8L223.9 201.2L224.0 205.2L224.1 208.9L224.1 212.2L224.2 215.3L224.2 218.1L224.2 220.6L224.3 223.0L224.3 225.1L224.4 227.1L224.4 229.0L224.5 230.7L224.6 233.8L224.7 236.4L224.8 238.7L224.9 240.8L225.0 242.6L225.1 244.2L225.2 245.7L225.3 247.0L225.4 248.2L225.5 249.4L225.6 250.4L225.7 251.3L225.8 252.2L225.9 253.0L226.0 253.8L226.1 254.5L226.2 255.1L226.3 255.8L226.4 256.3L226.5 256.9L226.6 257.4L226.7 257.9L226.8 258.4L226.9 258.8L227.0 259.3L227.1 259.7L227.2 260.1L227.3 260.4L227.4 260.8L227.5 261.1L227.6 261.4L227.7 261.7L227.8 262.0L227.9 262.3L228.0 262.6L228.1 262.8L228.2 263.1L228.3 263.3L228.4 263.6L228.5 263.8L228.6 264.0L228.7 264.2L228.8 264.4L228.9 264.6L229.0 264.8L229.1 265.0L229.2 265.1L229.3 265.3L229.4 265.5L229.5 265.6L229.9 266.2L230.3 266.8L230.7 267.3L231.1 267.7L231.5 268.1L231.9 268.5L232.3 268.9L232.7 269.3L233.1 269.6L233.5 269.9L233.9 270.3L234.3 270.6L234.6 270.9L235.0 271.1L235.4 271.4L235.8 271.7L236.2 271.9L236.6 272.2L237.0 272.4L237.4 272.6L237.8 272.9L238.2 273.1L238.6 273.3L239.0 273.5L239.4 273.7L239.8 273.9L240.2 274.1L240.6 274.3L241.0 274.5L241.4 274.6L241.8 274.8L242.2 275.0L242.6 275.1L243.0 275.3L243.4 275.4L243.8 275.6L244.2 275.7L244.6 275.9L244.9 276.0L245.3 276.1L245.7 276.3L246.1 276.4L246.5 276.5L246.9 276.6L247.3 276.7L247.7 276.8L248.1 277.0L248.5 277.1L248.9 277.2L249.3 277.3L249.7 277.4L250.1 277.5L250.5 277.5L250.9 277.6L251.3 277.7L251.7 277.8L252.1 277.9L252.5 278.0L252.9 278.0L253.3 278.1L253.7 278.2L254.1 278.3L254.5 278.3L254.8 278.4L255.2 278.5L255.6 278.5L256.0 278.6L256.4 278.6L256.8 278.7L257.2 278.8L257.6 278.8L258.0 278.9L258.4 278.9L258.8 279.0L259.2 279.0L259.6 279.1L260.0 279.1L260.4 279.2L260.8 279.2L261.2 279.2L261.6 279.3L262.0 279.3L262.4 279.4L262.8 279.4L263.2 279.4L263.6 279.5L264.0 279.5L264.4 279.5L264.8 279.6L264.9 281.0L265.0 102.6L265.1 112.9L265.1 122.4L265.1 131.1L265.2 139.1L265.2 146.5L265.3 153.2L265.4 159.4L265.4 165.2L265.4 170.4L265.5 175.3L265.6 179.8L265.6 184.0L265.6 187.8L265.7 191.4L265.8 194.7L265.8 197.7L265.9 200.6L265.9 203.3L265.9 205.7L266.0 208.0L266.1 212.2L266.2 215.9L266.3 219.1L266.4 222.0L266.5 224.6L266.6 226.9L266.7 229.0L266.8 230.8L266.9 232.6L267.0 234.1L267.1 235.6L267.2 236.9L267.3 238.1L267.4 239.3L267.5 240.4L267.6 241.4L267.7 242.3L267.8 243.2L267.9 244.0L268.0 244.8L268.1 245.6L268.2 246.3L268.3 246.9L268.4 247.6L268.5 248.2L268.6 248.8L268.7 249.3L268.8 249.8L268.9 250.3L269.0 250.8L269.1 251.3L269.2 251.7L269.3 252.2L269.4 252.6L269.5 253.0L269.6 253.3L269.7 253.7L269.8 254.0L269.9 254.4L270.0 254.7L270.1 255.0L270.2 255.3L270.3 255.6L270.4 255.9L270.5 256.2L270.6 256.4L270.7 256.7L270.8 256.9L270.9 257.2L271.0 257.4L271.4 258.3L271.8 259.0L272.2 259.7L272.6 260.3L273.0 260.9L273.4 261.5L273.8 262.0L274.2 262.4L274.6 262.9L275.0 263.3L275.4 263.7L275.8 264.1L276.2 264.4L276.6 264.8L277.0 265.1L277.4 265.5L277.8 265.8L278.2 266.1L278.6 266.4L279.0 266.7L279.4 267.0L279.8 267.2L280.2 267.5L280.6 267.8L281.0 268.0L281.4 268.3L281.8 268.5L282.2 268.8L282.6 269.0L282.9 269.2L283.3 269.4L283.7 269.7L284.1 269.9L284.5 270.1L284.9 270.3L285.3 270.5L285.7 270.7L286.1 270.8L286.5 271.0L286.9 271.2L287.3 271.4L287.7 271.5L288.1 271.7L288.5 271.9L288.9 272.0L289.3 272.2L289.7 272.3L290.1 272.5L290.5 272.6L290.9 272.8L291.3 272.9L291.7 273.0L292.1 273.2L292.5 273.3L292.9 273.4L293.3 273.5L293.7 273.7L294.1 273.8L294.5 273.9L294.9 274.0L295.3 274.1L295.7 274.2L296.1 274.3L296.5 274.4L296.9 274.5L297.3 274.6L297.7 274.7L298.1 274.8L298.5 274.9L298.9 275.0L299.3 275.1L299.7 275.2L300.1 275.2L300.5 275.3L300.9 275.4L301.3 275.5L301.7 275.5L302.1 275.6L302.5 275.7L302.9 275.8L303.3 275.8L303.7 275.9L304.1 275.9L304.5 276.0L304.9 276.1L305.3 276.1L305.7 276.2L306.1 276.3L306.4 276.3L306.6 277.7L306.7 64.7L306.8 77.1L306.8 88.5L306.8 98.9L306.9 108.5L306.9 117.3L307.0 125.5L307.1 133.0L307.1 139.9L307.1 146.2L307.2 152.1L307.2 157.6L307.3 162.6L307.3 167.3L307.4 171.6L307.4 175.6L307.5 179.4L307.6 182.8L307.6 186.1L307.6 189.1L307.7 191.9L307.8 197.0L307.9 201.5L308.0 205.5L308.1 209.0L308.2 212.2L308.3 215.0L308.4 217.5L308.5 219.9L308.6 222.0L308.7 223.9L308.8 225.7L308.9 227.3L309.0 228.8L309.1 230.2L309.2 231.5L309.3 232.8L309.4 233.9L309.5 235.0L309.6 236.0L309.7 237.0L309.8 237.9L309.9 238.8L310.0 239.6L310.1 240.4L310.2 241.1L310.3 241.9L310.4 242.5L310.5 243.2L310.6 243.8L310.7 244.4L310.8 245.0L310.9 245.5L311.0 246.0L311.1 246.5L311.2 247.0L311.3 247.5L311.4 247.9L311.5 248.4L311.6 248.8L311.7 249.2L311.8 249.5L311.9 249.9L312.0 250.3L312.1 250.6L312.2 251.0L312.3 251.3L312.4 251.6L312.5 251.9L312.6 252.2L312.7 252.5L313.1 253.5L313.5 254.5L313.9 255.3L314.3 256.1L314.7 256.8L315.1 257.5L315.5 258.1L315.9 258.6L316.3 259.2L316.7 259.7L317.1 260.2L317.5 260.7L317.9 261.1L318.3 261.5L318.7 261.9L319.1 262.3L319.5 262.7L319.8 263.1L320.2 263.5L320.6 263.8L321.0 264.2L321.4 264.5L321.8 264.8L322.2 265.1L322.6 265.5L323.0 265.8L323.4 266.1L323.8 266.3L324.2 266.6L324.6 266.9L325.0 267.2L325.4 267.4L325.8 267.7L326.2 267.9L326.6 268.2L327.0 268.4L327.4 268.6L327.8 268.9L328.2 269.1L328.6 269.3L329.0 269.5L329.4 269.7L329.8 269.9L330.2 270.1L330.6 270.3L331.0 270.5L331.4 270.7L331.8 270.9L332.2 271.1L332.6 271.2L333.0 271.4L333.4 271.6L333.8 271.7L334.1 271.9L334.5 272.0L334.9 272.2L335.3 272.3L335.7 272.5L336.1 272.6L336.5 272.7L336.9 272.9L337.3 273.0L337.7 273.1L338.1 273.3L338.5 273.4L338.9 273.5L339.3 273.6L339.7 273.7L340.1 273.8L340.5 273.9L340.9 274.1L341.3 274.2L341.7 274.3L342.1 274.4L342.5 274.5L342.9 274.5L343.3 274.6L343.7 274.7L344.1 274.8L344.5 274.9L344.9 275.0L345.3 275.1L345.7 275.2L346.1 275.2L346.5 275.3L346.9 275.4L347.3 275.5L347.7 275.5L348.1 275.6L348.4 275.7L348.6 277.4L348.7 104.6L348.8 115.2L348.8 124.9L348.8 133.7L348.9 141.9L348.9 149.3L349.0 156.1L349.1 162.3L349.1 168.0L349.1 173.3L349.2 178.1L349.2 182.6L349.3 186.7L349.3 190.5L349.4 194.0L349.4 197.2L349.5 200.2L349.6 203.0L349.6 205.6L349.6 208.0L349.7 210.2L349.8 214.3L349.9 217.8L350.0 220.9L350.1 223.7L350.2 226.2L350.3 228.4L350.4 230.4L350.5 232.2L350.6 233.8L350.7 235.3L350.8 236.7L350.9 238.0L351.0 239.1L351.1 240.2L351.2 241.3L351.3 242.2L351.4 243.1L351.5 244.0L351.6 244.8L351.7 245.5L351.8 246.2L351.9 246.9L352.0 247.6L352.1 248.2L352.2 248.7L352.3 249.3L352.4 249.8L352.5 250.3L352.6 250.8L352.7 251.3L352.8 251.7L352.9 252.1L353.0 252.5L353.1 252.9L353.2 253.3L353.3 253.7L353.4 254.0L353.5 254.3L353.6 254.7L353.7 255.0L353.8 255.3L353.9 255.5L354.0 255.8L354.1 256.1L354.2 256.3L354.3 256.6L354.4 256.8L354.5 257.1L354.6 257.3L354.7 257.5L355.1 258.3L355.5 259.1L355.9 259.7L356.3 260.3L356.7 260.9L357.1 261.4L357.5 261.9L357.9 262.4L358.3 262.8L358.7 263.2L359.1 263.6L359.5 264.0L359.9 264.3L360.3 264.7L360.7 265.0L361.1 265.3L361.5 265.7L361.9 266.0L362.3 266.3L362.7 266.5L363.1 266.8L363.5 267.1L363.9 267.4L364.3 267.6L364.7 267.9L365.1 268.1L365.5 268.4L365.9 268.6L366.3 268.8L366.7 269.0L367.1 269.3L367.5 269.5L367.9 269.7L368.3 269.9L368.7 270.1L369.1 270.3L369.5 270.4L369.9 270.6L370.3 270.8L370.7 271.0L371.1 271.1L371.5 271.3L371.9 271.5L372.3 271.6L372.7 271.8L373.1 271.9L373.5 272.1L373.9 272.2L374.3 272.4L374.7 272.5L375.1 272.6L375.5 272.7L375.9 272.9L376.3 273.0L376.7 273.1L377.1 273.2L377.5 273.3L377.9 273.5L378.3 273.6L378.7 273.7L379.1 273.8L379.5 273.9L379.9 274.0L380.3 274.1L380.7 274.2L381.1 274.2L381.5 274.3L381.9 274.4L382.3 274.5L382.7 274.6L383.1 274.7L383.5 274.7L383.9 274.8L384.3 274.9L384.7 275.0L385.1 275.0L385.5 275.1L385.9 275.2L386.3 275.2L386.7 275.3L387.1 275.4L387.5 275.4L387.9 275.5L388.3 275.6L388.7 275.6L389.1 275.7L389.5 275.7L389.9 275.8L390.2 275.8L390.4 277.0L390.5 141.0L390.6 150.6L390.6 159.3L390.6 167.0L390.7 174.1L390.8 180.4L390.8 186.2L390.9 191.4L390.9 196.1L390.9 200.4L391.0 204.3L391.1 207.9L391.1 211.2L391.1 214.1L391.2 216.9L391.2 219.4L391.3 221.7L391.4 223.8L391.4 225.7L391.4 227.5L391.5 229.2L391.6 232.2L391.7 234.8L391.8 237.0L391.9 239.0L392.0 240.8L392.1 242.4L392.2 243.8L392.3 245.1L392.4 246.3L392.5 247.4L392.6 248.4L392.7 249.3L392.8 250.2L392.9 250.9L393.0 251.7L393.1 252.4L393.2 253.0L393.3 253.6L393.4 254.2L393.5 254.8L393.6 255.3L393.7 255.8L393.8 256.2L393.9 256.7L394.0 257.1L394.1 257.5L394.2 257.8L394.3 258.2L394.4 258.5L394.5 258.9L394.6 259.2L394.7 259.5L394.8 259.8L394.9 260.0L395.0 260.3L395.1 260.6L395.2 260.8L395.3 261.0L395.4 261.3L395.5 261.5L395.6 261.7L395.7 261.9L395.8 262.1L395.9 262.3L396.0 262.5L396.1 262.6L396.2 262.8L396.3 263.0L396.4 263.1L396.5 263.3L396.9 263.9L397.3 264.4L397.7 264.9L398.1 265.3L398.5 265.7L398.9 266.1L399.3 266.5L399.7 266.9L400.1 267.2L400.5 267.5L400.9 267.8L401.3 268.1L401.7 268.4L402.1 268.7L402.5 268.9L402.9 269.2L403.3 269.4L403.7 269.7L404.1 269.9L404.5 270.1L404.9 270.4L405.3 270.6L405.7 270.8L406.1 271.0L406.5 271.2L406.9 271.4L407.3 271.6L407.7 271.7L408.1 271.9L408.4 272.1L408.8 272.3L409.2 272.4L409.6 272.6L410.0 272.7L410.4 272.9L410.8 273.0L411.2 273.2L411.6 273.3L412.0 273.4L412.4 273.5L412.8 273.7L413.2 273.8L413.6 273.9L414.0 274.0L414.4 274.1L414.8 274.2L415.2 274.4L415.6 274.5L416.0 274.6L416.4 274.7L416.8 274.7L417.2 274.8L417.6 274.9L418.0 275.0L418.4 275.1L418.8 275.2L419.2 275.3L419.6 275.3L420.0 275.4L420.4 275.5L420.8 275.6L421.2 275.6L421.6 275.7L422.0 275.8L422.4 275.8L422.8 275.9L423.2 275.9L423.6 276.0L424.0 276.1L424.4 276.1L424.8 276.2L425.2 276.2L425.6 276.3L426.0 276.3L426.4 276.4L426.8 276.4L427.2 276.4L427.6 276.5L428.0 276.5L428.4 276.6L428.8 276.6L429.2 276.7L429.6 276.7L430.0 276.7L430.4 276.8L430.8 276.8L431.2 276.8L431.6 276.9L432.0 276.9L432.4 276.9L432.5 277.6L433.3 268.5L434.0 267.6L435.0 267.4L435.2 267.5L435.5 267.6L435.8 267.6L436.0 267.7L436.2 267.8L436.5 267.9L436.8 268.0L437.0 268.1L437.2 268.2L437.5 268.3L437.8 268.5L438.0 268.6L438.2 268.7L438.5 268.8L438.8 269.0L439.0 269.1L439.2 269.2L439.5 269.3L439.8 269.4L440.0 269.5L440.2 269.6L440.5 269.7L440.8 269.8L441.0 269.9L441.2 270.0L441.5 270.1L441.8 270.2L442.0 270.3L442.2 270.4L442.5 270.4L442.8 270.5L443.0 270.6L443.2 270.7L443.5 270.7L443.8 270.8L444.0 270.9L444.2 271.0L444.5 271.0L444.8 271.1L445.0 271.2L445.2 271.2L445.5 271.3L445.8 271.3L446.0 271.4L446.2 271.5L446.5 271.5L446.8 271.6L447.0 271.6L447.2 271.7L447.5 271.8L447.8 271.8L448.0 271.9L448.2 271.9L448.5 272.0L448.8 272.0L449.0 272.1L449.2 272.2L449.5 272.2L449.8 272.3L450.0 272.3L450.2 272.4L450.5 272.4L450.8 272.5L451.0 272.6L451.2 272.6L451.5 272.7L451.8 272.7L452.0 272.8L452.2 272.8L452.5 272.9L452.8 272.9L453.0 273.0L453.2 273.0L453.5 273.1L453.8 273.1L454.0 273.2L454.2 273.3L454.5 273.3L454.8 273.4L455.0 273.4L455.2 273.5L455.5 273.5L455.8 273.6L456.0 273.6L456.2 273.7L456.5 273.7L456.8 273.8L457.0 273.9L457.2 273.9L457.5 274.0L457.8 274.0L458.0 274.1L458.2 274.1L458.5 274.2L458.8 274.2L459.0 274.3L459.2 274.3L459.5 274.4L459.8 274.4L460.0 274.5L460.2 274.6L460.5 274.6L460.8 274.7L461.0 274.7L461.2 274.8L461.5 274.8L461.8 274.9L462.0 274.9L462.2 275.0L462.5 275.0L462.8 275.1L463.0 275.2L463.2 275.2L463.5 275.3L463.8 275.3L464.0 275.4L464.2 275.4L464.5 275.5L464.8 275.5L465.0 275.6L465.2 275.6L465.5 275.7L465.8 275.7L466.0 275.8L466.2 275.9L466.5 275.9L466.8 276.0L467.0 276.0L467.2 276.0L467.5 276.1L467.8 276.1L468.0 276.2L468.2 276.2L468.5 276.3L468.8 276.3L469.0 276.4L469.2 276.4L469.5 276.5L469.8 276.5L470.0 276.6L470.2 276.6L470.5 276.7L470.8 276.7L471.0 276.8L471.2 276.9L471.5 276.9L471.8 277.0L472.0 277.1L472.2 277.1L472.5 277.2L472.8 277.3L473.0 277.3L473.2 277.4L473.5 277.5L473.8 277.5L474.0 277.6L474.2 277.7L474.5 277.8L474.8 277.9L475.0 277.9L475.2 278.0L475.2 278.0L475.4 277.9L475.7 277.7L475.9 277.6L476.2 277.5L476.4 277.3L476.7 277.2L476.9 277.0L477.2 276.9L477.4 276.7L477.7 276.5L477.9 276.3L478.2 276.1L478.4 276.0L478.7 275.9L478.9 275.8L479.2 275.8L479.4 275.8L479.7 275.7L479.9 275.7L480.2 275.7L480.4 275.6L480.7 275.6L480.9 275.6L481.2 275.6L481.4 275.6L481.7 275.6L481.9 275.6L482.2 275.5L482.4 275.5L482.7 275.5L482.9 275.5L483.2 275.5L483.4 275.5L483.7 275.5L483.9 275.5L484.2 275.5L484.4 275.5L484.7 275.5L484.9 275.5L485.2 275.5L485.4 275.5L485.7 275.5L485.9 275.6L486.2 275.6L486.4 275.6L486.7 275.6L486.9 275.6L487.2 275.6L487.4 275.7L487.7 275.7L487.9 275.7L488.2 275.7L488.4 275.7L488.7 275.8L488.9 275.8L489.2 275.8L489.4 275.8L489.7 275.9L489.9 275.9L490.2 275.9L490.4 276.0L490.7 276.0L490.9 276.0L491.2 276.1L491.4 276.1L491.7 276.2L491.9 276.2L492.2 276.2L492.4 276.3L492.7 276.3L492.9 276.3L493.2 276.4L493.4 276.4L493.7 276.4L493.9 276.5L494.2 276.5L494.4 276.6L494.7 276.6L494.8 276.6" stroke="#FF0000"/>
</g>
<g clip-path="url(#ci)" fill="none" stroke-linejoin="round" stroke-width="1.35">
<path d="M-137.3 630.7L-136.5 630.7L-135.8 630.7L-135.0 630.7L-134.2 630.8L-133.5 630.8L-132.7 630.8L-132.0 630.8L-131.2 630.8L-130.4 630.8L-129.7 630.9L-128.9 630.9L-128.2 630.9L-127.4 630.9L-126.6 630.9L-125.9 631.0L-125.1 631.0L-124.4 631.0L-123.6 631.0L-122.9 631.1L-122.1 631.1L-121.3 631.1L-120.6 631.1L-119.8 631.2L-119.1 631.2L-118.3 631.2L-117.5 631.2L-116.8 631.3L-116.0 631.3L-115.3 631.3L-114.5 631.4L-113.7 631.4L-113.0 631.4L-112.2 631.5L-111.5 631.5L-110.7 631.6L-110.0 631.6L-109.2 631.7L-108.4 631.7L-107.7 631.8L-106.9 631.8L-106.2 631.9L-105.4 631.9L-104.6 632.0L-103.9 632.0L-103.1 632.1L-102.4 632.1L-101.6 632.2L-100.8 632.2L-100.1 632.3L-99.3 632.3L-98.6 632.3L-97.8 632.4L-97.1 632.4L-96.3 632.4L-95.5 632.5L-94.8 632.5L-94.0 632.5L-93.3 632.5L-92.5 632.6L-91.7 632.6L-91.0 632.6L-90.2 632.6L-89.5 632.7L-88.7 632.7L-88.0 632.7L-87.2 632.7L-86.4 632.8L-85.7 632.8L-84.9 632.8L-84.2 632.8L-83.4 632.9L-82.6 632.9L-81.9 632.9L-81.1 632.9L-80.4 632.9L-79.6 632.9L-78.8 633.0L-78.1 633.0L-77.3 633.0L-76.6 633.0L-75.8 633.0L-75.1 633.0L-74.3 633.0L-73.5 633.1L-72.8 633.1L-72.0 633.1L-71.3 633.1L-70.5 633.1L-69.7 633.1L-69.0 633.1L-68.2 633.1L-67.5 633.1L-66.7 633.1L-65.9 633.1L-65.2 633.1L-64.4 633.0L-63.7 633.0L-62.9 633.0L-62.2 632.9L-61.4 632.9L-60.6 632.8L-59.9 632.8L-59.1 632.7L-58.4 632.7L-57.6 632.6L-56.8 632.6L-56.1 632.5L-55.3 632.4L-54.6 632.3L-53.8 632.3L-53.0 632.2L-52.3 632.1L-51.5 632.1L-50.8 632.0L-50.0 631.9L-49.3 631.9L-48.5 631.8L-47.7 631.7L-47.0 631.7L-46.2 631.6L-45.5 631.5L-44.7 631.5L-43.9 631.4L-43.2 631.3L-42.4 631.3L-41.7 631.2L-40.9 631.1L-40.1 631.1L-39.4 631.0L-38.6 630.9L-37.9 630.8L-37.1 630.8L-36.4 630.7L-35.6 630.6L-34.8 630.6L-34.1 630.5L-33.3 630.4L-32.6 630.4L-31.8 630.3L-31.0 630.3L-30.3 630.2L-29.5 630.2L-28.8 630.1L-28.0 630.1L-27.3 630.1L-26.5 630.0L-25.7 630.0L-25.0 630.0L-24.2 630.0L-23.5 629.9L-22.7 629.9L-21.9 629.9L-21.2 629.8L-20.4 629.8L-19.7 629.8L-18.9 629.8L-18.1 629.7L-17.4 629.7L-16.6 629.7L-15.9 629.7L-15.1 629.7L-14.4 629.6L-13.6 629.6L-12.8 629.6L-12.1 629.6L-11.3 629.6L-10.6 629.6L-9.8 629.5L-9.0 629.5L-8.3 629.5L-7.5 629.5L-6.8 629.5L-6.0 629.5L-5.2 629.5L-4.5 629.5L-3.7 629.5L-3.0 629.5L-2.2 629.5L-1.5 629.5L-0.7 629.5L0.1 629.5L0.8 629.5L1.6 629.5L2.3 629.5L3.1 629.5L3.9 629.5L4.6 629.6L5.4 629.6L6.1 629.6L6.9 629.6L7.7 629.6L8.4 629.6L9.2 629.6L9.9 629.6L10.7 629.6L11.4 629.7L12.2 629.7L13.0 629.7L13.7 629.7L14.5 629.7L15.2 629.7L16.0 629.7L16.8 629.7L17.5 629.8L18.3 629.8L19.0 629.8L19.8 629.8L20.6 629.8L21.3 629.8L22.1 629.8L22.8 629.8L23.6 629.8L24.3 629.8L25.1 629.9L25.9 629.9L26.6 629.9L27.4 629.9L28.1 629.9L28.9 629.9L29.7 629.9L30.4 629.9L31.2 629.9L31.9 629.9L32.7 630.0L33.4 630.0L34.2 630.0L35.0 630.0L35.7 630.0L36.5 630.0L37.2 630.1L38.0 630.1L38.8 630.1L39.5 630.1L40.3 630.2L41.0 630.3L41.8 630.3L42.6 630.4L43.3 630.5L44.1 630.6L44.8 630.6L45.6 630.7L46.3 630.7L47.1 630.6L47.9 630.4L48.6 630.1L49.4 629.8L50.1 629.9L50.9 630.4L51.7 630.9L52.4 631.4L53.2 631.9L53.9 632.3L54.7 632.5L55.5 632.5L56.2 632.3L57.0 632.2L57.7 631.9L58.5 631.7L59.2 631.2L60.0 630.7L60.8 630.2L61.5 629.7L62.3 629.2L63.0 628.6L63.8 628.1L64.6 627.7L65.3 627.3L66.1 627.0L66.8 626.7L67.6 626.4L68.4 626.1L69.1 625.9L69.9 625.6L70.6 625.4L71.4 625.2L72.1 624.9L72.9 624.7L73.7 624.5L74.4 624.3L75.2 624.1L75.9 624.0L76.7 623.8L77.5 623.7L78.2 623.6L79.0 623.5L79.7 623.4L80.5 623.3L81.2 623.3L82.0 623.2L82.8 623.1L83.5 623.0L84.3 622.9L85.0 622.9L85.8 622.8L86.6 622.8L87.3 622.7L88.1 622.7L88.8 622.6L89.6 622.6L90.4 622.6L91.1 622.6L91.9 622.5L92.6 622.5L93.4 622.5L94.1 622.4L94.9 622.4L95.7 622.4L96.4 622.4L97.2 622.4L97.9 622.4L98.7 622.3L99.5 622.3L100.2 622.3L101.0 622.3L101.7 622.3L102.5 622.3L103.3 622.3L104.0 622.3L104.8 622.3L105.5 622.3L106.3 622.3L107.0 622.3L107.8 622.3L108.6 622.3L109.3 622.4L110.1 622.4L110.8 622.4L111.6 622.4L112.4 622.4L113.1 622.4L113.9 622.4L114.6 622.5L115.4 622.5L116.2 622.5L116.9 622.5L117.7 622.6L118.4 622.6L119.2 622.6L119.9 622.6L120.7 622.6L121.5 622.7L122.2 622.7L123.0 622.7L123.7 622.7L124.5 622.8L125.3 622.8L126.0 622.8L126.8 622.8L127.5 622.9L128.3 622.9L129.1 622.9L129.8 623.0L130.6 623.0L131.3 623.0L132.1 623.1L132.8 623.1L133.6 623.1L134.4 623.2L135.1 623.2L135.9 623.2L136.6 623.3L137.4 623.3L138.2 623.4L138.9 623.4L139.7 623.5L140.4 623.5L141.2 623.6L142.0 623.6L142.7 623.7L143.5 623.7L144.2 623.8L145.0 623.8L145.7 623.9L146.5 623.9L147.3 624.0L148.0 624.0L148.8 624.1L149.5 624.1L150.3 624.2L151.1 624.2L151.8 624.3L152.6 624.3L153.3 624.4L154.1 624.4L154.8 624.5L155.6 624.5L156.4 624.6L157.1 624.6L157.9 624.7L158.6 624.7L159.4 624.7L160.2 624.8L160.9 624.8L161.7 624.9L162.4 624.9L163.2 625.0L164.0 625.0L164.7 625.1L165.5 625.1L166.2 625.2L167.0 625.2L167.7 625.3L168.5 625.3L169.3 625.4L170.0 625.4L170.8 625.5L171.5 625.5L172.3 625.6L173.1 625.6L173.8 625.7L174.6 625.7L175.3 625.8L176.1 625.8L176.9 625.9L177.2 625.9L177.9 632.5L178.5 646.0L179.0 639.4L179.4 625.0L179.9 616.0L180.5 610.3L180.8 607.6L182.9 604.6L183.7 604.2L184.4 603.9L185.2 603.6L186.0 603.4L186.7 603.4L187.5 603.3L188.2 603.2L189.0 603.2L189.8 603.1L190.5 603.1L191.3 603.1L192.0 603.1L192.8 603.1L193.5 603.2L194.3 603.3L195.1 603.4L195.8 603.5L196.6 603.6L197.3 603.8L198.1 603.9L198.9 604.1L199.6 604.3L200.4 604.4L201.1 604.6L201.9 604.8L202.6 604.9L203.4 605.0L204.2 605.2L204.9 605.3L205.7 605.5L206.4 605.7L207.2 605.8L208.0 606.0L208.7 606.2L209.5 606.4L210.2 606.5L211.0 606.7L211.8 606.9L212.5 607.1L213.3 607.3L214.0 607.4L214.8 607.6L215.5 607.8L216.3 608.0L217.1 608.2L217.8 608.3L218.6 608.5L219.3 608.7L220.1 608.8L220.9 609.0L221.6 609.2L222.4 609.3L223.1 609.5L223.9 609.6L224.7 609.7L225.4 609.9L226.2 610.0L226.9 610.1L227.7 610.2L228.4 610.4L229.2 610.5L230.0 610.6L230.7 610.7L231.5 610.8L232.2 610.9L233.0 611.0L233.8 611.2L234.5 611.3L235.3 611.4L236.0 611.5L236.8 611.6L237.6 611.7L238.3 611.8L239.1 611.9L239.8 612.0L240.6 612.1L241.3 612.2L242.1 612.3L242.9 612.4L243.6 612.5L244.4 612.6L245.1 612.6L245.9 612.7L246.7 612.8L247.4 612.9L248.2 613.0L248.9 613.1L249.7 613.2L250.5 613.3L251.2 613.3L252.0 613.4L252.7 613.5L253.5 613.6L254.2 613.6L255.0 613.7L255.8 613.8L256.5 613.8L257.3 613.9L258.0 614.0L258.8 614.1L259.6 614.1L260.3 614.2L261.1 614.3L261.8 614.3L262.6 614.4L263.4 614.5L264.1 614.5L264.9 614.6L265.6 614.7L266.4 614.8L267.1 614.8L267.9 614.9L268.7 615.0L269.4 615.1L270.2 615.1L270.9 615.2L271.7 615.3L272.5 615.4L273.2 615.5L274.0 615.6L274.7 615.7L275.5 615.7L276.2 615.8L277.0 615.9L277.8 616.0L278.5 616.1L279.3 616.2L280.0 616.3L280.8 616.4L281.6 616.5L282.3 616.6L283.1 616.7L283.8 616.7L284.6 616.8L285.4 616.9L286.1 617.0L286.9 617.1L287.6 617.2L288.4 617.3L289.1 617.4L289.9 617.5L290.7 617.6L291.4 617.6L292.2 617.7L292.9 617.8L293.7 617.9L294.5 618.0L295.2 618.1L296.0 618.2L296.7 618.3L297.5 618.4L298.3 618.5L299.0 618.5L299.8 618.6L300.5 618.7L301.3 618.8L302.0 618.9L302.8 619.0L303.4 626.2L304.3 192.5L304.5 224.8L304.6 253.5L304.8 279.2L304.9 302.2L305.1 322.8L305.2 341.2L305.4 357.7L305.5 372.6L305.7 386.1L305.8 398.2L306.0 409.1L306.1 419.0L306.3 428.1L306.4 436.3L306.6 443.7L306.8 450.6L306.9 456.8L307.1 462.6L307.2 467.9L307.4 472.8L307.7 481.5L308.0 489.0L308.3 495.6L308.6 501.4L308.9 506.5L309.2 511.1L309.5 515.2L309.8 518.9L310.1 522.3L310.4 525.4L310.7 528.3L311.0 531.0L311.3 533.4L311.6 535.7L311.9 537.8L312.2 539.8L312.5 541.7L312.8 543.5L313.1 545.1L313.4 546.7L313.7 548.2L314.0 549.6L314.3 550.9L314.6 552.1L314.9 553.3L315.2 554.4L315.6 555.5L315.9 556.5L316.2 557.5L316.5 558.4L316.8 559.3L317.1 560.2L317.4 561.0L317.7 561.8L318.0 562.5L318.3 563.2L318.6 563.9L318.9 564.6L319.2 565.2L319.5 565.9L319.8 566.5L320.1 567.0L320.4 567.6L320.7 568.1L321.0 568.7L321.3 569.2L321.6 569.7L321.9 570.1L322.2 570.6L322.5 571.1L323.7 572.8L324.9 574.3L326.1 575.7L327.3 577.0L328.5 578.3L329.7 579.5L330.9 580.6L332.1 581.6L333.4 582.7L334.6 583.6L335.8 584.6L337.0 585.5L338.2 586.4L339.4 587.2L340.6 588.0L341.8 588.8L343.0 589.6L344.2 590.3L345.4 591.0L346.6 591.7L347.8 592.4L349.0 593.0L350.2 593.7L351.4 594.3L352.6 594.9L353.8 595.5L355.0 596.0L356.2 596.5L357.4 597.1L358.6 597.6L359.8 598.1L361.0 598.5L362.2 599.0L363.4 599.5L364.6 599.9L365.8 600.3L367.0 600.7L368.2 601.1L369.4 601.5L370.6 601.9L371.8 602.2L373.0 602.6L374.2 602.9L375.4 603.3L376.6 603.6L377.8 603.9L379.0 604.2L380.2 604.5L381.4 604.8L382.6 605.0L383.8 605.3L385.0 605.5L386.2 605.8L387.4 606.0L388.6 606.3L389.8 606.5L391.1 606.7L392.3 606.9L393.5 607.1L394.7 607.3L395.9 607.5L397.1 607.7L398.3 607.9L399.5 608.1L400.7 608.3L401.9 608.4L403.1 608.6L404.3 608.7L405.5 608.9L406.7 609.0L407.9 609.2L409.1 609.3L410.3 609.5L411.5 609.6L412.7 609.7L413.9 609.8L415.1 609.9L416.3 610.1L417.5 610.2L418.7 610.3L419.9 610.4L421.1 610.5L422.3 610.6L423.5 610.7L424.7 610.8L425.9 610.9L427.1 610.9L428.3 611.0L429.5 611.1L429.8 616.3L430.3 79.2L430.4 111.2L430.6 140.4L430.7 167.2L430.9 191.6L431.0 214.1L431.2 234.7L431.3 253.6L431.5 270.9L431.6 286.9L431.8 301.6L431.9 315.1L432.1 327.6L432.2 339.2L432.4 349.9L432.6 359.8L432.7 368.9L432.9 377.4L433.0 385.3L433.2 392.7L433.3 399.6L433.6 412.0L433.9 422.8L434.2 432.4L434.5 440.9L434.8 448.4L435.1 455.2L435.4 461.3L435.7 466.9L436.0 471.9L436.3 476.5L436.6 480.8L437.0 484.7L437.3 488.3L437.6 491.7L437.9 494.9L438.2 497.8L438.5 500.6L438.8 503.2L439.1 505.6L439.4 507.9L439.7 510.1L440.0 512.2L440.3 514.2L440.6 516.1L440.9 517.9L441.2 519.6L441.5 521.2L441.8 522.7L442.1 524.2L442.4 525.6L442.7 527.0L443.0 528.3L443.3 529.5L443.6 530.7L443.9 531.9L444.2 533.0L444.5 534.0L444.8 535.1L445.1 536.0L445.5 537.0L445.8 537.9L446.1 538.8L446.4 539.6L446.7 540.5L447.0 541.3L447.3 542.0L447.6 542.8L447.9 543.5L448.2 544.2L448.5 544.9L449.7 547.4L450.9 549.6L452.1 551.7L453.3 553.5L454.5 555.2L455.7 556.8L456.9 558.3L458.2 559.7L459.4 561.0L460.6 562.3L461.8 563.5L463.0 564.6L464.2 565.7L465.4 566.8L466.6 567.8L467.8 568.8L469.0 569.7L470.2 570.7L471.5 571.6L472.7 572.5L473.9 573.3L475.1 574.1L476.3 574.9L477.5 575.7L478.7 576.5L479.9 577.2L481.1 578.0L482.3 578.7L483.5 579.4L484.8 580.1L486.0 580.7L487.2 581.4L488.4 582.0L489.6 582.6L490.8 583.2L492.0 583.8L493.2 584.3L494.4 584.9L495.6 585.4L496.8 586.0L498.0 586.5L499.3 587.0L500.5 587.5L501.7 588.0L502.9 588.4L504.1 588.9L505.3 589.3L506.5 589.8L507.7 590.2L508.9 590.6L510.1 591.0L511.3 591.4L512.6 591.8L513.8 592.2L515.0 592.5L516.2 592.9L517.4 593.2L518.6 593.6L519.8 593.9L521.0 594.2L522.2 594.6L523.4 594.9L524.6 595.2L525.9 595.5L527.1 595.7L528.3 596.0L529.5 596.3L530.7 596.6L531.9 596.8L533.1 597.1L534.3 597.3L535.5 597.6L536.7 597.8L537.9 598.0L539.2 598.3L540.4 598.5L541.6 598.7L542.8 598.9L544.0 599.1L545.2 599.3L546.4 599.5L547.6 599.7L548.8 599.9L550.0 600.1L551.2 600.3L552.4 600.4L553.7 600.6L554.9 600.8L556.1 600.9L556.4 608.5L556.8 -34.4L557.0 4.9L557.1 40.8L557.3 73.6L557.4 103.6L557.6 131.1L557.7 156.2L557.9 179.3L558.0 200.5L558.2 219.9L558.4 237.8L558.5 254.3L558.7 269.5L558.8 283.5L559.0 296.5L559.1 308.5L559.3 319.6L559.4 329.9L559.6 339.5L559.7 348.4L559.9 356.7L560.2 371.7L560.5 384.8L560.8 396.3L561.1 406.6L561.4 415.7L561.7 423.9L562.0 431.2L562.3 437.9L562.6 444.0L562.9 449.5L563.2 454.6L563.5 459.4L563.8 463.7L564.1 467.8L564.4 471.6L564.7 475.1L565.0 478.5L565.3 481.6L565.6 484.6L565.9 487.4L566.2 490.0L566.5 492.5L566.9 494.9L567.2 497.1L567.5 499.3L567.8 501.3L568.1 503.3L568.4 505.2L568.7 507.0L569.0 508.7L569.3 510.3L569.6 511.9L569.9 513.4L570.2 514.8L570.5 516.2L570.8 517.5L571.1 518.8L571.4 520.0L571.7 521.2L572.0 522.3L572.3 523.4L572.6 524.5L572.9 525.5L573.2 526.5L573.5 527.5L573.8 528.4L574.1 529.3L574.4 530.2L574.7 531.0L575.0 531.8L576.3 534.8L577.5 537.5L578.7 540.0L579.9 542.2L581.1 544.3L582.3 546.2L583.5 548.0L584.7 549.7L585.9 551.3L587.1 552.8L588.3 554.2L589.5 555.6L590.7 556.9L591.9 558.2L593.1 559.5L594.3 560.7L595.5 561.8L596.7 563.0L598.0 564.0L599.2 565.1L600.4 566.1L601.6 567.2L602.8 568.1L604.0 569.1L605.2 570.0L606.4 570.9L607.6 571.8L608.8 572.7L610.0 573.5L611.2 574.3L612.4 575.1L613.6 575.9L614.8 576.7L616.0 577.4L617.2 578.1L618.4 578.8L619.7 579.5L620.9 580.2L622.1 580.8L623.3 581.5L624.5 582.1L625.7 582.7L626.9 583.3L628.1 583.9L629.3 584.5L630.5 585.0L631.7 585.5L632.9 586.1L634.1 586.6L635.3 587.1L636.5 587.6L637.7 588.1L638.9 588.5L640.1 589.0L641.4 589.4L642.6 589.8L643.8 590.3L645.0 590.7L646.2 591.1L647.4 591.5L648.6 591.8L649.8 592.2L651.0 592.6L652.2 592.9L653.4 593.3L654.6 593.6L655.8 594.0L657.0 594.3L658.2 594.6L659.4 594.9L660.6 595.2L661.8 595.5L663.1 595.8L664.3 596.0L665.5 596.3L666.7 596.6L667.9 596.8L669.1 597.1L670.3 597.3L671.5 597.6L672.7 597.8L673.9 598.0L675.1 598.3L676.3 598.5L677.5 598.7L678.7 598.9L679.9 599.1L681.1 599.3L682.3 599.5L683.5 599.7L683.8 607.3L684.3 85.2L684.5 118.9L684.6 149.5L684.8 177.3L684.9 202.6L685.1 225.6L685.2 246.6L685.4 265.8L685.5 283.3L685.7 299.4L685.8 314.0L686.0 327.5L686.1 339.8L686.3 351.2L686.4 361.7L686.6 371.3L686.7 380.2L686.9 388.4L687.0 396.1L687.2 403.1L687.3 409.7L687.6 421.5L687.9 431.8L688.2 440.9L688.6 448.9L688.9 456.0L689.2 462.4L689.5 468.1L689.8 473.3L690.1 478.0L690.4 482.3L690.7 486.3L691.0 490.0L691.3 493.4L691.6 496.6L691.9 499.5L692.2 502.3L692.5 504.9L692.8 507.4L693.1 509.7L693.4 511.8L693.7 513.9L694.0 515.8L694.3 517.7L694.6 519.5L694.9 521.1L695.2 522.7L695.5 524.2L695.8 525.7L696.1 527.1L696.4 528.4L696.7 529.7L697.1 530.9L697.4 532.0L697.7 533.1L698.0 534.2L698.3 535.2L698.6 536.2L698.9 537.2L699.2 538.1L699.5 539.0L699.8 539.8L700.1 540.6L700.4 541.4L700.7 542.2L701.0 542.9L701.3 543.6L701.6 544.3L701.9 545.0L702.2 545.7L702.5 546.3L703.7 548.6L704.9 550.8L706.2 552.7L707.4 554.4L708.6 556.1L709.8 557.6L711.0 559.0L712.2 560.4L713.4 561.6L714.6 562.9L715.8 564.0L717.1 565.2L718.3 566.2L719.5 567.3L720.7 568.3L721.9 569.3L723.1 570.2L724.3 571.1L725.5 572.0L726.8 572.9L728.0 573.7L729.2 574.5L730.4 575.3L731.6 576.1L732.8 576.9L734.0 577.6L735.2 578.3L736.5 579.0L737.7 579.7L738.9 580.3L740.1 581.0L741.3 581.6L742.5 582.2L743.7 582.8L744.9 583.4L746.2 583.9L747.4 584.5L748.6 585.0L749.8 585.5L751.0 586.1L752.2 586.5L753.4 587.0L754.6 587.5L755.9 587.9L757.1 588.4L758.3 588.8L759.5 589.2L760.7 589.7L761.9 590.1L763.1 590.4L764.3 590.8L765.6 591.2L766.8 591.6L768.0 591.9L769.2 592.3L770.4 592.6L771.6 592.9L772.8 593.2L774.0 593.5L775.3 593.8L776.5 594.1L777.7 594.4L778.9 594.7L780.1 595.0L781.3 595.2L782.5 595.5L783.7 595.7L785.0 596.0L786.2 596.2L787.4 596.4L788.6 596.7L789.8 596.9L791.0 597.1L792.2 597.3L793.4 597.5L794.6 597.7L795.9 597.9L797.1 598.1L798.3 598.3L799.5 598.4L800.7 598.6L801.9 598.8L803.1 598.9L804.3 599.1L805.6 599.3L806.8 599.4L808.0 599.6L809.2 599.7L810.4 599.9L810.7 606.1L811.2 194.6L811.3 225.0L811.5 252.2L811.6 276.6L811.8 298.5L811.9 318.2L812.1 335.9L812.2 351.8L812.4 366.3L812.5 379.3L812.7 391.1L812.8 401.8L813.0 411.5L813.1 420.3L813.3 428.4L813.4 435.8L813.6 442.6L813.7 448.8L813.9 454.5L814.1 459.8L814.2 464.6L814.5 473.3L814.8 480.8L815.1 487.4L815.4 493.2L815.7 498.3L816.0 502.9L816.3 507.0L816.6 510.7L816.9 514.1L817.2 517.2L817.5 520.1L817.8 522.7L818.1 525.2L818.5 527.5L818.8 529.6L819.1 531.6L819.4 533.5L819.7 535.3L820.0 536.9L820.3 538.5L820.6 540.0L820.9 541.4L821.2 542.7L821.5 543.9L821.8 545.1L822.1 546.3L822.4 547.3L822.7 548.4L823.0 549.4L823.3 550.3L823.6 551.2L823.9 552.0L824.2 552.9L824.5 553.6L824.8 554.4L825.1 555.1L825.4 555.8L825.7 556.5L826.0 557.1L826.3 557.8L826.6 558.4L826.9 558.9L827.3 559.5L827.6 560.0L827.9 560.6L828.2 561.1L828.5 561.6L828.8 562.0L829.1 562.5L829.4 563.0L830.6 564.6L831.8 566.2L833.0 567.6L834.2 568.9L835.4 570.1L836.6 571.3L837.8 572.4L839.0 573.4L840.3 574.4L841.5 575.4L842.7 576.3L843.9 577.2L845.1 578.0L846.3 578.9L847.5 579.7L848.7 580.4L849.9 581.2L851.1 581.9L852.3 582.6L853.6 583.3L854.8 584.0L856.0 584.6L857.2 585.2L858.4 585.8L859.6 586.4L860.8 587.0L862.0 587.5L863.2 588.1L864.4 588.6L865.6 589.1L866.9 589.6L868.1 590.0L869.3 590.5L870.5 590.9L871.7 591.4L872.9 591.8L874.1 592.2L875.3 592.6L876.5 593.0L877.7 593.3L878.9 593.7L880.2 594.1L881.4 594.4L882.6 594.7L883.8 595.0L885.0 595.4L886.2 595.7L887.4 596.0L888.6 596.2L889.8 596.5L891.0 596.8L892.2 597.0L893.5 597.3L894.7 597.5L895.9 597.8L897.1 598.0L898.3 598.2L899.5 598.4L900.7 598.6L901.9 598.9L903.1 599.1L904.3 599.2L905.5 599.4L906.7 599.6L908.0 599.8L909.2 600.0L910.4 600.1L911.6 600.3L912.8 600.4L914.0 600.6L915.2 600.7L916.4 600.9L917.6 601.0L918.8 601.2L920.0 601.3L921.3 601.4L922.5 601.5L923.7 601.6L924.9 601.8L926.1 601.9L927.3 602.0L928.5 602.1L929.7 602.2L930.9 602.3L932.1 602.4L933.3 602.5L934.6 602.6L935.8 602.7L937.0 602.7L938.2 602.8L938.5 606.7L942.0 586.0L943.8 582.4L946.2 580.9L947.0 580.9L947.7 581.0L948.5 581.0L949.3 581.1L950.0 581.2L950.8 581.3L951.5 581.4L952.3 581.5L953.1 581.6L953.8 581.8L954.6 582.0L955.3 582.2L956.1 582.5L956.8 582.8L957.6 583.1L958.4 583.4L959.1 583.7L959.9 583.9L960.6 584.2L961.4 584.5L962.2 584.8L962.9 585.1L963.7 585.4L964.4 585.7L965.2 586.0L966.0 586.3L966.7 586.6L967.5 586.9L968.2 587.1L969.0 587.4L969.7 587.6L970.5 587.8L971.3 588.0L972.0 588.1L972.8 588.3L973.5 588.4L974.3 588.5L975.1 588.7L975.8 588.8L976.6 588.9L977.3 589.0L978.1 589.1L978.9 589.2L979.6 589.3L980.4 589.4L981.1 589.5L981.9 589.6L982.6 589.7L983.4 589.8L984.2 589.9L984.9 590.0L985.7 590.1L986.4 590.2L987.2 590.3L988.0 590.4L988.7 590.5L989.5 590.6L990.2 590.7L991.0 590.8L991.8 590.9L992.5 591.0L993.3 591.1L994.0 591.2L994.8 591.3L995.5 591.4L996.3 591.5L997.1 591.6L997.8 591.7L998.6 591.8L999.3 591.9L1000.1 592.0L1000.9 592.1L1001.6 592.3L1002.4 592.4L1003.1 592.5L1003.9 592.6L1004.6 592.7L1005.4 592.8L1006.2 593.0L1006.9 593.1L1007.7 593.2L1008.4 593.4L1009.2 593.5L1010.0 593.6L1010.7 593.8L1011.5 593.9L1012.2 594.0L1013.0 594.2L1013.8 594.3L1014.5 594.5L1015.3 594.6L1016.0 594.7L1016.8 594.9L1017.5 595.0L1018.3 595.2L1019.1 595.3L1019.8 595.5L1020.6 595.6L1021.3 595.8L1022.1 595.9L1022.9 596.0L1023.6 596.2L1024.4 596.3L1025.1 596.5L1025.9 596.6L1026.7 596.8L1027.4 596.9L1028.2 597.1L1028.9 597.2L1029.7 597.4L1030.4 597.5L1031.2 597.7L1032.0 597.8L1032.7 598.0L1033.5 598.1L1034.2 598.3L1035.0 598.4L1035.8 598.6L1036.5 598.7L1037.3 598.9L1038.0 599.0L1038.8 599.2L1039.6 599.3L1040.3 599.5L1041.1 599.6L1041.8 599.8L1042.6 599.9L1043.3 600.1L1044.1 600.2L1044.9 600.4L1045.6 600.5L1046.4 600.6L1047.1 600.8L1047.9 600.9L1048.7 601.0L1049.4 601.2L1050.2 601.3L1050.9 601.5L1051.7 601.6L1052.5 601.8L1053.2 602.0L1054.0 602.1L1054.7 602.3L1055.5 602.5L1056.2 602.7L1057.0 602.9L1057.8 603.1L1058.5 603.3L1059.3 603.6L1060.0 603.8L1060.8 604.0L1061.6 604.3L1062.3 604.5L1063.1 604.8L1063.8 605.1L1064.6 605.3L1065.3 605.6L1066.1 605.9L1066.9 606.2L1067.6 606.5L1068.2 606.7L1068.2 606.7L1069.0 606.6L1069.7 606.5L1070.5 606.3L1071.3 606.1L1072.0 606.0L1072.8 605.8L1073.5 605.5L1074.3 605.3L1075.1 605.0L1075.8 604.6L1076.6 604.2L1077.3 603.9L1078.1 603.6L1078.9 603.4L1079.6 603.3L1080.4 603.2L1081.1 603.1L1081.9 603.1L1082.6 603.0L1083.4 602.9L1084.2 602.9L1084.9 602.8L1085.7 602.8L1086.4 602.8L1087.2 602.7L1088.0 602.7L1088.7 602.7L1089.5 602.6L1090.2 602.6L1091.0 602.6L1091.8 602.6L1092.5 602.5L1093.3 602.5L1094.0 602.5L1094.8 602.5L1095.5 602.5L1096.3 602.5L1097.1 602.5L1097.8 602.5L1098.6 602.5L1099.3 602.5L1100.1 602.5L1100.9 602.5L1101.6 602.6L1102.4 602.6L1103.1 602.6L1103.9 602.6L1104.7 602.6L1105.4 602.6L1106.2 602.7L1106.9 602.7L1107.7 602.7L1108.4 602.7L1109.2 602.8L1110.0 602.8L1110.7 602.8L1111.5 602.8L1112.2 602.9L1113.0 602.9L1113.8 603.0L1114.5 603.0L1115.3 603.1L1116.0 603.1L1116.8 603.2L1117.6 603.3L1118.3 603.3L1119.1 603.4L1119.8 603.4L1120.6 603.5L1121.3 603.6L1122.1 603.6L1122.9 603.7L1123.6 603.7L1124.4 603.8L1125.1 603.8L1125.9 603.9L1126.7 603.9L1127.4 604.0L1127.7 604.0" stroke="#0000FF" stroke-width="1.3"/>
<path d="M-137.3 630.4L-136.5 630.4L-135.8 630.4L-135.0 630.4L-134.2 630.5L-133.5 630.5L-132.7 630.5L-132.0 630.5L-131.2 630.5L-130.4 630.5L-129.7 630.6L-128.9 630.6L-128.2 630.6L-127.4 630.6L-126.6 630.6L-125.9 630.7L-125.1 630.7L-124.4 630.7L-123.6 630.7L-122.9 630.8L-122.1 630.8L-121.3 630.8L-120.6 630.8L-119.8 630.9L-119.1 630.9L-118.3 630.9L-117.5 630.9L-116.8 631.0L-116.0 631.0L-115.3 631.0L-114.5 631.1L-113.7 631.1L-113.0 631.1L-112.2 631.2L-111.5 631.2L-110.7 631.3L-110.0 631.3L-109.2 631.4L-108.4 631.4L-107.7 631.5L-106.9 631.5L-106.2 631.6L-105.4 631.6L-104.6 631.7L-103.9 631.7L-103.1 631.8L-102.4 631.8L-101.6 631.9L-100.8 631.9L-100.1 632.0L-99.3 632.0L-98.6 632.0L-97.8 632.1L-97.1 632.1L-96.3 632.1L-95.5 632.2L-94.8 632.2L-94.0 632.2L-93.3 632.2L-92.5 632.3L-91.7 632.3L-91.0 632.3L-90.2 632.3L-89.5 632.4L-88.7 632.4L-88.0 632.4L-87.2 632.4L-86.4 632.5L-85.7 632.5L-84.9 632.5L-84.2 632.5L-83.4 632.6L-82.6 632.6L-81.9 632.6L-81.1 632.6L-80.4 632.6L-79.6 632.6L-78.8 632.7L-78.1 632.7L-77.3 632.7L-76.6 632.7L-75.8 632.7L-75.1 632.7L-74.3 632.7L-73.5 632.8L-72.8 632.8L-72.0 632.8L-71.3 632.8L-70.5 632.8L-69.7 632.8L-69.0 632.8L-68.2 632.8L-67.5 632.8L-66.7 632.8L-65.9 632.8L-65.2 632.8L-64.4 632.7L-63.7 632.7L-62.9 632.7L-62.2 632.6L-61.4 632.6L-60.6 632.5L-59.9 632.5L-59.1 632.4L-58.4 632.4L-57.6 632.3L-56.8 632.3L-56.1 632.2L-55.3 632.1L-54.6 632.0L-53.8 632.0L-53.0 631.9L-52.3 631.8L-51.5 631.8L-50.8 631.7L-50.0 631.6L-49.3 631.6L-48.5 631.5L-47.7 631.4L-47.0 631.4L-46.2 631.3L-45.5 631.2L-44.7 631.2L-43.9 631.1L-43.2 631.0L-42.4 631.0L-41.7 630.9L-40.9 630.8L-40.1 630.8L-39.4 630.7L-38.6 630.6L-37.9 630.5L-37.1 630.5L-36.4 630.4L-35.6 630.3L-34.8 630.3L-34.1 630.2L-33.3 630.1L-32.6 630.1L-31.8 630.0L-31.0 630.0L-30.3 629.9L-29.5 629.9L-28.8 629.8L-28.0 629.8L-27.3 629.8L-26.5 629.7L-25.7 629.7L-25.0 629.7L-24.2 629.7L-23.5 629.6L-22.7 629.6L-21.9 629.6L-21.2 629.5L-20.4 629.5L-19.7 629.5L-18.9 629.5L-18.1 629.4L-17.4 629.4L-16.6 629.4L-15.9 629.4L-15.1 629.4L-14.4 629.3L-13.6 629.3L-12.8 629.3L-12.1 629.3L-11.3 629.3L-10.6 629.3L-9.8 629.2L-9.0 629.2L-8.3 629.2L-7.5 629.2L-6.8 629.2L-6.0 629.2L-5.2 629.2L-4.5 629.2L-3.7 629.2L-3.0 629.2L-2.2 629.2L-1.5 629.2L-0.7 629.2L0.1 629.2L0.8 629.2L1.6 629.2L2.3 629.2L3.1 629.2L3.9 629.2L4.6 629.3L5.4 629.3L6.1 629.3L6.9 629.3L7.7 629.3L8.4 629.3L9.2 629.3L9.9 629.3L10.7 629.3L11.4 629.4L12.2 629.4L13.0 629.4L13.7 629.4L14.5 629.4L15.2 629.4L16.0 629.4L16.8 629.4L17.5 629.5L18.3 629.5L19.0 629.5L19.8 629.5L20.6 629.5L21.3 629.5L22.1 629.5L22.8 629.5L23.6 629.5L24.3 629.5L25.1 629.6L25.9 629.6L26.6 629.6L27.4 629.6L28.1 629.6L28.9 629.6L29.7 629.6L30.4 629.6L31.2 629.6L31.9 629.6L32.7 629.7L33.4 629.7L34.2 629.7L35.0 629.7L35.7 629.7L36.5 629.7L37.2 629.8L38.0 629.8L38.8 629.8L39.5 629.8L40.3 629.9L41.0 630.0L41.8 630.0L42.6 630.1L43.3 630.2L44.1 630.3L44.8 630.3L45.6 630.4L46.3 630.4L47.1 630.3L47.9 630.0L48.6 629.5L49.4 629.2L50.1 629.3L50.9 629.9L51.7 630.6L52.4 631.1L53.2 631.7L53.9 631.9L54.7 631.8L55.5 631.5L56.2 631.1L57.0 630.7L57.7 630.3L58.5 629.7L59.2 629.2L60.0 628.6L60.8 628.0L61.5 627.5L62.3 626.9L63.0 626.3L63.8 625.8L64.6 625.5L65.3 625.1L66.1 624.8L66.8 624.5L67.6 624.2L68.4 624.0L69.1 623.7L69.9 623.5L70.6 623.4L71.4 623.2L72.1 623.0L72.9 622.9L73.7 622.7L74.4 622.6L75.2 622.5L75.9 622.4L76.7 622.3L77.5 622.3L78.2 622.2L79.0 622.2L79.7 622.1L80.5 622.1L81.2 622.0L82.0 622.0L82.8 621.9L83.5 621.9L84.3 621.9L85.0 621.8L85.8 621.8L86.6 621.8L87.3 621.8L88.1 621.7L88.8 621.7L89.6 621.7L90.4 621.7L91.1 621.7L91.9 621.7L92.6 621.6L93.4 621.6L94.1 621.6L94.9 621.6L95.7 621.6L96.4 621.6L97.2 621.6L97.9 621.6L98.7 621.6L99.5 621.6L100.2 621.6L101.0 621.6L101.7 621.6L102.5 621.6L103.3 621.6L104.0 621.6L104.8 621.6L105.5 621.6L106.3 621.6L107.0 621.6L107.8 621.6L108.6 621.6L109.3 621.6L110.1 621.6L110.8 621.7L111.6 621.7L112.4 621.7L113.1 621.7L113.9 621.7L114.6 621.8L115.4 621.8L116.2 621.8L116.9 621.8L117.7 621.9L118.4 621.9L119.2 621.9L119.9 622.0L120.7 622.0L121.5 622.0L122.2 622.1L123.0 622.1L123.7 622.1L124.5 622.1L125.3 622.2L126.0 622.2L126.8 622.2L127.5 622.3L128.3 622.3L129.1 622.3L129.8 622.4L130.6 622.4L131.3 622.4L132.1 622.5L132.8 622.5L133.6 622.5L134.4 622.6L135.1 622.6L135.9 622.7L136.6 622.7L137.4 622.8L138.2 622.8L138.9 622.8L139.7 622.9L140.4 622.9L141.2 623.0L142.0 623.0L142.7 623.1L143.5 623.1L144.2 623.2L145.0 623.2L145.7 623.3L146.5 623.3L147.3 623.4L148.0 623.4L148.8 623.5L149.5 623.5L150.3 623.6L151.1 623.6L151.8 623.7L152.6 623.7L153.3 623.8L154.1 623.8L154.8 623.9L155.6 623.9L156.4 624.0L157.1 624.0L157.9 624.1L158.6 624.1L159.4 624.1L160.2 624.2L160.9 624.2L161.7 624.3L162.4 624.3L163.2 624.4L164.0 624.4L164.7 624.5L165.5 624.5L166.2 624.6L167.0 624.6L167.7 624.7L168.5 624.7L169.3 624.8L170.0 624.8L170.8 624.9L171.5 624.9L172.3 625.0L173.1 625.0L173.8 625.1L174.6 625.1L175.3 625.2L176.1 625.2L176.9 625.3L177.2 625.3L177.8 591.4L178.5 632.5L179.6 600.4L180.6 595.3L181.4 595.0L182.2 594.8L182.9 594.7L183.7 594.8L184.4 594.9L185.2 595.1L186.0 595.4L186.7 595.6L187.5 595.9L188.2 596.2L189.0 596.4L189.8 596.8L190.5 597.1L191.3 597.4L192.0 597.8L192.8 598.2L193.5 598.5L194.3 598.9L195.1 599.2L195.8 599.6L196.6 599.9L197.3 600.2L198.1 600.4L198.9 600.7L199.6 601.0L200.4 601.2L201.1 601.5L201.9 601.7L202.6 601.9L203.4 602.2L204.2 602.4L204.9 602.6L205.7 602.9L206.4 603.1L207.2 603.3L208.0 603.5L208.7 603.7L209.5 603.9L210.2 604.1L211.0 604.3L211.8 604.5L212.5 604.7L213.3 604.9L214.0 605.1L214.8 605.2L215.5 605.4L216.3 605.6L217.1 605.8L217.8 605.9L218.6 606.1L219.3 606.3L220.1 606.4L220.9 606.6L221.6 606.7L222.4 606.9L223.1 607.0L223.9 607.2L224.7 607.3L225.4 607.5L226.2 607.6L226.9 607.7L227.7 607.9L228.4 608.0L229.2 608.1L230.0 608.2L230.7 608.4L231.5 608.5L232.2 608.6L233.0 608.7L233.8 608.8L234.5 608.9L235.3 609.1L236.0 609.2L236.8 609.3L237.6 609.4L238.3 609.5L239.1 609.6L239.8 609.7L240.6 609.8L241.3 609.9L242.1 610.0L242.9 610.1L243.6 610.3L244.4 610.4L245.1 610.5L245.9 610.6L246.7 610.7L247.4 610.8L248.2 610.9L248.9 611.0L249.7 611.1L250.5 611.2L251.2 611.3L252.0 611.4L252.7 611.6L253.5 611.7L254.2 611.8L255.0 611.9L255.8 612.0L256.5 612.1L257.3 612.2L258.0 612.3L258.8 612.4L259.6 612.5L260.3 612.6L261.1 612.7L261.8 612.8L262.6 612.9L263.4 613.0L264.1 613.1L264.9 613.2L265.6 613.3L266.4 613.4L267.1 613.5L267.9 613.7L268.7 613.8L269.4 613.9L270.2 614.0L270.9 614.1L271.7 614.2L272.5 614.3L273.2 614.4L274.0 614.5L274.7 614.6L275.5 614.7L276.2 614.8L277.0 614.9L277.8 615.0L278.5 615.1L279.3 615.2L280.0 615.3L280.8 615.4L281.6 615.5L282.3 615.6L283.1 615.7L283.8 615.8L284.6 615.9L285.4 616.0L286.1 616.1L286.9 616.2L287.6 616.3L288.4 616.4L289.1 616.5L289.9 616.6L290.7 616.7L291.4 616.8L292.2 616.9L292.9 617.0L293.7 617.1L294.5 617.2L295.2 617.3L296.0 617.4L296.7 617.6L297.5 617.7L298.3 617.8L299.0 617.9L299.8 618.0L300.5 618.1L301.3 618.2L302.0 618.3L302.8 618.4L303.4 625.6L304.3 192.5L304.5 222.0L304.6 248.6L304.8 272.5L304.9 294.1L305.1 313.7L305.2 331.4L305.4 347.4L305.5 362.0L305.7 375.2L305.8 387.2L306.0 398.2L306.1 408.2L306.3 417.3L306.4 425.7L306.6 433.4L306.8 440.4L306.9 446.9L307.1 452.9L307.2 458.5L307.4 463.6L307.7 472.8L308.0 480.8L308.3 487.7L308.6 493.9L308.9 499.4L309.2 504.2L309.5 508.6L309.8 512.6L310.1 516.2L310.4 519.6L310.7 522.6L311.0 525.4L311.3 528.0L311.6 530.5L311.9 532.8L312.2 534.9L312.5 536.9L312.8 538.8L313.1 540.5L313.4 542.2L313.7 543.8L314.0 545.3L314.3 546.7L314.6 548.0L314.9 549.3L315.2 550.5L315.6 551.7L315.9 552.8L316.2 553.8L316.5 554.8L316.8 555.8L317.1 556.7L317.4 557.6L317.7 558.4L318.0 559.3L318.3 560.0L318.6 560.8L318.9 561.5L319.2 562.2L319.5 562.9L319.8 563.5L320.1 564.1L320.4 564.7L320.7 565.3L321.0 565.9L321.3 566.4L321.6 566.9L321.9 567.4L322.2 567.9L322.5 568.4L323.7 570.2L324.9 571.8L326.1 573.3L327.3 574.7L328.5 575.9L329.7 577.1L330.9 578.3L332.1 579.3L333.4 580.4L334.6 581.3L335.8 582.3L337.0 583.2L338.2 584.1L339.4 584.9L340.6 585.7L341.8 586.5L343.0 587.3L344.2 588.0L345.4 588.7L346.6 589.4L347.8 590.1L349.0 590.8L350.2 591.4L351.4 592.0L352.6 592.6L353.8 593.2L355.0 593.8L356.2 594.3L357.4 594.9L358.6 595.4L359.8 595.9L361.0 596.4L362.2 596.9L363.4 597.3L364.6 597.8L365.8 598.2L367.0 598.7L368.2 599.1L369.4 599.5L370.6 599.9L371.8 600.3L373.0 600.6L374.2 601.0L375.4 601.4L376.6 601.7L377.8 602.0L379.0 602.4L380.2 602.7L381.4 603.0L382.6 603.3L383.8 603.6L385.0 603.9L386.2 604.1L387.4 604.4L388.6 604.6L389.8 604.9L391.1 605.1L392.3 605.4L393.5 605.6L394.7 605.8L395.9 606.1L397.1 606.3L398.3 606.5L399.5 606.7L400.7 606.9L401.9 607.1L403.1 607.2L404.3 607.4L405.5 607.6L406.7 607.8L407.9 607.9L409.1 608.1L410.3 608.3L411.5 608.4L412.7 608.5L413.9 608.7L415.1 608.8L416.3 609.0L417.5 609.1L418.7 609.2L419.9 609.4L421.1 609.5L422.3 609.6L423.5 609.7L424.7 609.8L425.9 609.9L427.1 610.0L428.3 610.1L429.5 610.2L429.8 614.5L430.3 79.2L430.4 110.3L430.6 138.8L430.7 164.9L430.9 188.9L431.0 210.9L431.2 231.2L431.3 249.8L431.5 267.0L431.6 282.8L431.8 297.4L431.9 310.9L432.1 323.4L432.2 334.9L432.4 345.6L432.6 355.5L432.7 364.7L432.9 373.3L433.0 381.3L433.2 388.7L433.3 395.6L433.6 408.2L433.9 419.2L434.2 428.9L434.5 437.5L434.8 445.2L435.1 452.2L435.4 458.4L435.7 464.0L436.0 469.2L436.3 473.9L436.6 478.2L437.0 482.2L437.3 485.9L437.6 489.4L437.9 492.6L438.2 495.6L438.5 498.4L438.8 501.1L439.1 503.6L439.4 505.9L439.7 508.2L440.0 510.3L440.3 512.3L440.6 514.2L440.9 516.0L441.2 517.8L441.5 519.4L441.8 521.0L442.1 522.5L442.4 524.0L442.7 525.4L443.0 526.7L443.3 528.0L443.6 529.2L443.9 530.4L444.2 531.5L444.5 532.6L444.8 533.6L445.1 534.6L445.5 535.6L445.8 536.5L446.1 537.4L446.4 538.3L446.7 539.2L447.0 540.0L447.3 540.8L447.6 541.5L447.9 542.3L448.2 543.0L448.5 543.7L449.7 546.3L450.9 548.6L452.1 550.6L453.3 552.5L454.5 554.3L455.7 555.9L456.9 557.4L458.2 558.8L459.4 560.1L460.6 561.4L461.8 562.6L463.0 563.7L464.2 564.8L465.4 565.9L466.6 566.9L467.8 567.9L469.0 568.9L470.2 569.8L471.5 570.7L472.7 571.6L473.9 572.4L475.1 573.2L476.3 574.0L477.5 574.8L478.7 575.6L479.9 576.3L481.1 577.1L482.3 577.8L483.5 578.5L484.8 579.2L486.0 579.8L487.2 580.5L488.4 581.1L489.6 581.7L490.8 582.3L492.0 582.9L493.2 583.5L494.4 584.0L495.6 584.6L496.8 585.1L498.0 585.6L499.3 586.1L500.5 586.6L501.7 587.1L502.9 587.6L504.1 588.1L505.3 588.5L506.5 589.0L507.7 589.4L508.9 589.8L510.1 590.2L511.3 590.6L512.6 591.0L513.8 591.4L515.0 591.8L516.2 592.1L517.4 592.5L518.6 592.8L519.8 593.2L521.0 593.5L522.2 593.8L523.4 594.2L524.6 594.5L525.9 594.8L527.1 595.1L528.3 595.4L529.5 595.6L530.7 595.9L531.9 596.2L533.1 596.4L534.3 596.7L535.5 597.0L536.7 597.2L537.9 597.4L539.2 597.7L540.4 597.9L541.6 598.1L542.8 598.3L544.0 598.5L545.2 598.8L546.4 599.0L547.6 599.2L548.8 599.3L550.0 599.5L551.2 599.7L552.4 599.9L553.7 600.1L554.9 600.3L556.1 600.4L556.4 604.6L556.8 -34.4L557.0 2.8L557.1 36.9L557.3 68.2L557.4 97.0L557.6 123.5L557.7 147.9L557.9 170.4L558.0 191.1L558.2 210.2L558.4 227.9L558.5 244.2L558.7 259.3L558.8 273.3L559.0 286.3L559.1 298.4L559.3 309.6L559.4 320.0L559.6 329.7L559.7 338.8L559.9 347.3L560.2 362.6L560.5 376.1L560.8 388.0L561.1 398.6L561.4 408.0L561.7 416.5L562.0 424.1L562.3 431.1L562.6 437.4L562.9 443.2L563.2 448.5L563.5 453.4L563.8 458.0L564.1 462.2L564.4 466.1L564.7 469.8L565.0 473.3L565.3 476.6L565.6 479.6L565.9 482.5L566.2 485.3L566.5 487.9L566.9 490.3L567.2 492.7L567.5 494.9L567.8 497.1L568.1 499.1L568.4 501.0L568.7 502.9L569.0 504.7L569.3 506.4L569.6 508.0L569.9 509.6L570.2 511.1L570.5 512.5L570.8 513.9L571.1 515.3L571.4 516.6L571.7 517.8L572.0 519.0L572.3 520.1L572.6 521.3L572.9 522.3L573.2 523.4L573.5 524.4L573.8 525.4L574.1 526.3L574.4 527.2L574.7 528.1L575.0 528.9L576.3 532.1L577.5 534.9L578.7 537.5L579.9 539.8L581.1 541.9L582.3 543.9L583.5 545.7L584.7 547.4L585.9 549.1L587.1 550.6L588.3 552.1L589.5 553.5L590.7 554.8L591.9 556.1L593.1 557.3L594.3 558.5L595.5 559.7L596.7 560.8L598.0 561.9L599.2 563.0L600.4 564.0L601.6 565.0L602.8 566.0L604.0 566.9L605.2 567.9L606.4 568.8L607.6 569.7L608.8 570.5L610.0 571.4L611.2 572.2L612.4 573.0L613.6 573.8L614.8 574.5L616.0 575.3L617.2 576.0L618.4 576.7L619.7 577.4L620.9 578.1L622.1 578.8L623.3 579.4L624.5 580.1L625.7 580.7L626.9 581.3L628.1 581.9L629.3 582.5L630.5 583.0L631.7 583.6L632.9 584.1L634.1 584.7L635.3 585.2L636.5 585.7L637.7 586.2L638.9 586.7L640.1 587.1L641.4 587.6L642.6 588.0L643.8 588.5L645.0 588.9L646.2 589.3L647.4 589.7L648.6 590.1L649.8 590.5L651.0 590.9L652.2 591.3L653.4 591.6L654.6 592.0L655.8 592.4L657.0 592.7L658.2 593.0L659.4 593.3L660.6 593.7L661.8 594.0L663.1 594.3L664.3 594.6L665.5 594.9L666.7 595.1L667.9 595.4L669.1 595.7L670.3 596.0L671.5 596.2L672.7 596.5L673.9 596.7L675.1 597.0L676.3 597.2L677.5 597.4L678.7 597.6L679.9 597.9L681.1 598.1L682.3 598.3L683.5 598.5L683.8 603.7L684.3 85.2L684.5 117.0L684.6 146.1L684.8 172.7L684.9 197.1L685.1 219.3L685.2 239.7L685.4 258.4L685.5 275.6L685.7 291.4L685.8 305.9L686.0 319.2L686.1 331.6L686.3 342.9L686.4 353.4L686.6 363.2L686.7 372.2L686.9 380.5L687.0 388.3L687.2 395.5L687.3 402.2L687.6 414.4L687.9 425.0L688.2 434.3L688.6 442.6L688.9 450.0L689.2 456.6L689.5 462.6L689.8 468.0L690.1 472.9L690.4 477.4L690.7 481.6L691.0 485.4L691.3 488.9L691.6 492.2L691.9 495.3L692.2 498.2L692.5 500.9L692.8 503.4L693.1 505.8L693.4 508.1L693.7 510.2L694.0 512.2L694.3 514.2L694.6 516.0L694.9 517.7L695.2 519.4L695.5 521.0L695.8 522.5L696.1 523.9L696.4 525.3L696.7 526.6L697.1 527.9L697.4 529.1L697.7 530.3L698.0 531.4L698.3 532.5L698.6 533.5L698.9 534.5L699.2 535.5L699.5 536.4L699.8 537.3L700.1 538.1L700.4 539.0L700.7 539.8L701.0 540.5L701.3 541.3L701.6 542.0L701.9 542.7L702.2 543.4L702.5 544.1L703.7 546.5L704.9 548.7L706.2 550.7L707.4 552.5L708.6 554.2L709.8 555.8L711.0 557.2L712.2 558.6L713.4 559.9L714.6 561.1L715.8 562.3L717.1 563.4L718.3 564.5L719.5 565.5L720.7 566.6L721.9 567.5L723.1 568.5L724.3 569.4L725.5 570.3L726.8 571.1L728.0 572.0L729.2 572.8L730.4 573.6L731.6 574.4L732.8 575.1L734.0 575.9L735.2 576.6L736.5 577.3L737.7 578.0L738.9 578.6L740.1 579.3L741.3 579.9L742.5 580.5L743.7 581.1L744.9 581.7L746.2 582.3L747.4 582.8L748.6 583.4L749.8 583.9L751.0 584.4L752.2 584.9L753.4 585.4L754.6 585.9L755.9 586.4L757.1 586.8L758.3 587.3L759.5 587.7L760.7 588.1L761.9 588.6L763.1 589.0L764.3 589.4L765.6 589.7L766.8 590.1L768.0 590.5L769.2 590.8L770.4 591.2L771.6 591.5L772.8 591.9L774.0 592.2L775.3 592.5L776.5 592.8L777.7 593.1L778.9 593.4L780.1 593.7L781.3 594.0L782.5 594.2L783.7 594.5L785.0 594.8L786.2 595.0L787.4 595.3L788.6 595.5L789.8 595.7L791.0 596.0L792.2 596.2L793.4 596.4L794.6 596.6L795.9 596.8L797.1 597.0L798.3 597.2L799.5 597.4L800.7 597.6L801.9 597.8L803.1 598.0L804.3 598.2L805.6 598.3L806.8 598.5L808.0 598.7L809.2 598.8L810.4 599.0L810.7 602.5L811.2 194.6L811.3 223.3L811.5 249.3L811.6 272.6L811.8 293.7L811.9 312.8L812.1 330.1L812.2 345.7L812.4 359.9L812.5 372.8L812.7 384.5L812.8 395.2L813.0 405.0L813.1 413.9L813.3 422.1L813.4 429.6L813.6 436.5L813.7 442.8L813.9 448.7L814.1 454.1L814.2 459.1L814.5 468.1L814.8 475.8L815.1 482.6L815.4 488.6L815.7 494.0L816.0 498.7L816.3 503.0L816.6 506.9L816.9 510.4L817.2 513.7L817.5 516.7L817.8 519.4L818.1 522.0L818.5 524.3L818.8 526.6L819.1 528.6L819.4 530.6L819.7 532.4L820.0 534.1L820.3 535.8L820.6 537.3L820.9 538.8L821.2 540.2L821.5 541.5L821.8 542.7L822.1 543.9L822.4 545.0L822.7 546.1L823.0 547.1L823.3 548.1L823.6 549.0L823.9 549.9L824.2 550.8L824.5 551.6L824.8 552.4L825.1 553.2L825.4 553.9L825.7 554.6L826.0 555.3L826.3 555.9L826.6 556.6L826.9 557.2L827.3 557.8L827.6 558.3L827.9 558.9L828.2 559.4L828.5 559.9L828.8 560.4L829.1 560.9L829.4 561.4L830.6 563.1L831.8 564.7L833.0 566.1L834.2 567.5L835.4 568.7L836.6 569.9L837.8 571.0L839.0 572.1L840.3 573.1L841.5 574.0L842.7 574.9L843.9 575.8L845.1 576.7L846.3 577.5L847.5 578.3L848.7 579.1L849.9 579.8L851.1 580.5L852.3 581.2L853.6 581.9L854.8 582.6L856.0 583.2L857.2 583.9L858.4 584.5L859.6 585.1L860.8 585.6L862.0 586.2L863.2 586.7L864.4 587.3L865.6 587.8L866.9 588.3L868.1 588.7L869.3 589.2L870.5 589.7L871.7 590.1L872.9 590.5L874.1 591.0L875.3 591.4L876.5 591.8L877.7 592.1L878.9 592.5L880.2 592.9L881.4 593.2L882.6 593.6L883.8 593.9L885.0 594.2L886.2 594.6L887.4 594.9L888.6 595.2L889.8 595.5L891.0 595.7L892.2 596.0L893.5 596.3L894.7 596.5L895.9 596.8L897.1 597.0L898.3 597.3L899.5 597.5L900.7 597.7L901.9 597.9L903.1 598.2L904.3 598.4L905.5 598.6L906.7 598.8L908.0 598.9L909.2 599.1L910.4 599.3L911.6 599.5L912.8 599.7L914.0 599.8L915.2 600.0L916.4 600.1L917.6 600.3L918.8 600.4L920.0 600.6L921.3 600.7L922.5 600.8L923.7 601.0L924.9 601.1L926.1 601.2L927.3 601.4L928.5 601.5L929.7 601.6L930.9 601.7L932.1 601.8L933.3 601.9L934.6 602.0L935.8 602.1L937.0 602.2L938.2 602.3L938.5 604.3L941.1 577.0L943.2 574.3L946.2 573.7L947.0 573.9L947.7 574.2L948.5 574.4L949.3 574.7L950.0 574.9L950.8 575.2L951.5 575.5L952.3 575.8L953.1 576.2L953.8 576.5L954.6 576.9L955.3 577.3L956.1 577.6L956.8 578.0L957.6 578.4L958.4 578.7L959.1 579.1L959.9 579.4L960.6 579.7L961.4 580.0L962.2 580.3L962.9 580.6L963.7 580.9L964.4 581.2L965.2 581.5L966.0 581.8L966.7 582.0L967.5 582.3L968.2 582.6L969.0 582.8L969.7 583.1L970.5 583.3L971.3 583.5L972.0 583.7L972.8 584.0L973.5 584.2L974.3 584.4L975.1 584.6L975.8 584.8L976.6 585.0L977.3 585.2L978.1 585.3L978.9 585.5L979.6 585.7L980.4 585.9L981.1 586.1L981.9 586.2L982.6 586.4L983.4 586.6L984.2 586.8L984.9 586.9L985.7 587.1L986.4 587.3L987.2 587.5L988.0 587.6L988.7 587.8L989.5 588.0L990.2 588.1L991.0 588.3L991.8 588.5L992.5 588.7L993.3 588.8L994.0 589.0L994.8 589.2L995.5 589.3L996.3 589.5L997.1 589.6L997.8 589.8L998.6 590.0L999.3 590.1L1000.1 590.3L1000.9 590.4L1001.6 590.6L1002.4 590.8L1003.1 590.9L1003.9 591.1L1004.6 591.3L1005.4 591.4L1006.2 591.6L1006.9 591.8L1007.7 591.9L1008.4 592.1L1009.2 592.2L1010.0 592.4L1010.7 592.6L1011.5 592.7L1012.2 592.9L1013.0 593.1L1013.8 593.2L1014.5 593.4L1015.3 593.5L1016.0 593.7L1016.8 593.9L1017.5 594.0L1018.3 594.2L1019.1 594.4L1019.8 594.5L1020.6 594.7L1021.3 594.8L1022.1 595.0L1022.9 595.2L1023.6 595.3L1024.4 595.5L1025.1 595.7L1025.9 595.8L1026.7 596.0L1027.4 596.1L1028.2 596.3L1028.9 596.5L1029.7 596.6L1030.4 596.8L1031.2 597.0L1032.0 597.1L1032.7 597.3L1033.5 597.5L1034.2 597.6L1035.0 597.8L1035.8 597.9L1036.5 598.1L1037.3 598.3L1038.0 598.4L1038.8 598.6L1039.6 598.7L1040.3 598.9L1041.1 599.1L1041.8 599.2L1042.6 599.4L1043.3 599.5L1044.1 599.6L1044.9 599.8L1045.6 599.9L1046.4 600.1L1047.1 600.2L1047.9 600.3L1048.7 600.5L1049.4 600.6L1050.2 600.8L1050.9 600.9L1051.7 601.1L1052.5 601.2L1053.2 601.4L1054.0 601.6L1054.7 601.7L1055.5 601.9L1056.2 602.1L1057.0 602.3L1057.8 602.5L1058.5 602.7L1059.3 602.8L1060.0 603.1L1060.8 603.3L1061.6 603.5L1062.3 603.7L1063.1 603.9L1063.8 604.1L1064.6 604.4L1065.3 604.6L1066.1 604.8L1066.9 605.1L1067.6 605.3L1068.2 605.5L1068.2 605.5L1069.0 605.1L1069.7 604.7L1070.5 604.3L1071.3 603.9L1072.0 603.5L1072.8 603.0L1073.5 602.6L1074.3 602.1L1075.1 601.6L1075.8 601.0L1076.6 600.4L1077.3 599.9L1078.1 599.5L1078.9 599.2L1079.6 599.0L1080.4 598.9L1081.1 598.8L1081.9 598.7L1082.6 598.6L1083.4 598.5L1084.2 598.4L1084.9 598.4L1085.7 598.3L1086.4 598.3L1087.2 598.2L1088.0 598.2L1088.7 598.2L1089.5 598.1L1090.2 598.1L1091.0 598.1L1091.8 598.1L1092.5 598.0L1093.3 598.0L1094.0 598.0L1094.8 598.0L1095.5 598.0L1096.3 598.0L1097.1 598.0L1097.8 598.0L1098.6 598.1L1099.3 598.1L1100.1 598.1L1100.9 598.2L1101.6 598.2L1102.4 598.2L1103.1 598.3L1103.9 598.3L1104.7 598.4L1105.4 598.5L1106.2 598.5L1106.9 598.6L1107.7 598.6L1108.4 598.7L1109.2 598.8L1110.0 598.8L1110.7 598.9L1111.5 599.0L1112.2 599.1L1113.0 599.2L1113.8 599.3L1114.5 599.4L1115.3 599.5L1116.0 599.6L1116.8 599.7L1117.6 599.8L1118.3 600.0L1119.1 600.1L1119.8 600.2L1120.6 600.3L1121.3 600.4L1122.1 600.5L1122.9 600.6L1123.6 600.7L1124.4 600.8L1125.1 600.9L1125.9 601.0L1126.7 601.2L1127.4 601.3L1127.7 601.3" stroke="#FF0000"/>
</g>
<rect x="78" y="22" width="445" height="311" fill="none" stroke="#000" stroke-width="2"/>
<g stroke="#000" stroke-width="1.8">
<line x1="133.62" y1="333" x2="133.62" y2="329.5"/>
<line x1="189.25" y1="333" x2="189.25" y2="327"/>
<line x1="244.88" y1="333" x2="244.88" y2="329.5"/>
<line x1="300.50" y1="333" x2="300.50" y2="327"/>
<line x1="356.12" y1="333" x2="356.12" y2="329.5"/>
<line x1="411.75" y1="333" x2="411.75" y2="327"/>
<line x1="467.38" y1="333" x2="467.38" y2="329.5"/>
<line x1="78" y1="294.12" x2="84" y2="294.12"/>
<line x1="78" y1="255.25" x2="81.5" y2="255.25"/>
<line x1="78" y1="216.38" x2="84" y2="216.38"/>
<line x1="78" y1="177.50" x2="81.5" y2="177.50"/>
<line x1="78" y1="138.62" x2="84" y2="138.62"/>
<line x1="78" y1="99.75" x2="81.5" y2="99.75"/>
<line x1="78" y1="60.88" x2="84" y2="60.88"/>
</g>
<g font-size="20">
<text transform="translate(78.00 355.8) scale(1 1.065)" text-anchor="middle">0.00</text>
<text transform="translate(189.25 355.8) scale(1 1.065)" text-anchor="middle">0.02</text>
<text transform="translate(300.50 355.8) scale(1 1.065)" text-anchor="middle">0.04</text>
<text transform="translate(411.75 355.8) scale(1 1.065)" text-anchor="middle">0.06</text>
<text transform="translate(523.00 355.8) scale(1 1.065)" text-anchor="middle">0.08</text>
<text transform="translate(71 300.62) scale(1 1.065)" text-anchor="end">1200</text>
<text transform="translate(71 222.88) scale(1 1.065)" text-anchor="end">1400</text>
<text transform="translate(71 145.12) scale(1 1.065)" text-anchor="end">1600</text>
<text transform="translate(71 67.38) scale(1 1.065)" text-anchor="end">1800</text>
<text x="300.5" y="378.7" text-anchor="middle">Time (s)</text>
<text transform="translate(21.8 177.9) rotate(-90)" text-anchor="middle" font-size="20.3">The temperature of observation point (°C)</text>
</g>
<g font-size="18.6">
<line x1="406.8" y1="33.9" x2="450" y2="33.9" stroke="#0000FF" stroke-width="2"/>
<line x1="406.8" y1="53" x2="450" y2="53" stroke="#FF0000" stroke-width="2"/>
<text x="454.3" y="40.5">I=7 mA</text>
<text x="454.3" y="59.6">I=14 mA</text>
</g>
<g fill="none" stroke="#00B050" stroke-width="2.8" stroke-dasharray="7.4 2.47"><line x1="45.60" y1="396.50" x2="486.10" y2="396.50" stroke-dashoffset="3.37"/>
<line x1="484.70" y1="395.10" x2="484.70" y2="658.70" stroke-dashoffset="7.27"/>
<line x1="45.60" y1="657.30" x2="486.10" y2="657.30" stroke-dashoffset="7.84"/>
<line x1="47.00" y1="395.10" x2="47.00" y2="658.70" stroke-dashoffset="1.27"/>
<line x1="138.90" y1="248.70" x2="278.90" y2="248.70" stroke-dashoffset="9.14"/>
<line x1="277.50" y1="247.30" x2="277.50" y2="297.80" stroke-dashoffset="7.87"/>
<line x1="138.90" y1="296.40" x2="278.90" y2="296.40" stroke-dashoffset="8.47"/>
<line x1="140.30" y1="247.30" x2="140.30" y2="297.80" stroke-dashoffset="5.30"/>
<line x1="140.30" y1="272.50" x2="47.00" y2="396.50" stroke-dashoffset="0.00"/>
<line x1="277.50" y1="272.50" x2="484.70" y2="396.50" stroke-dashoffset="0.00"/></g>
</svg>
</body></html>
